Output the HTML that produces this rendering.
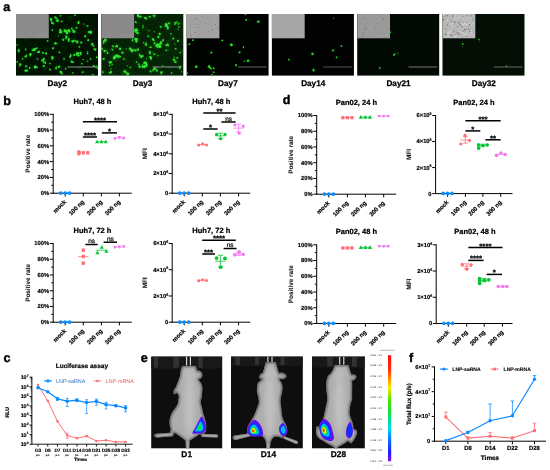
<!DOCTYPE html>
<html lang="en">
<head>
<meta charset="utf-8">
<title>Figure</title>
<style>
html,body{margin:0;padding:0;background:#fff;}
body{width:550px;height:470px;overflow:hidden;}
svg{display:block;font-family:"Liberation Sans", sans-serif;text-rendering:geometricPrecision;}
</style>
</head>
<body>
<svg width="550" height="470" viewBox="0 0 550 470">
<defs>
<filter id="b1" x="-50%" y="-50%" width="200%" height="200%"><feGaussianBlur stdDeviation="0.45"/></filter>
<filter id="b2" x="-50%" y="-50%" width="200%" height="200%"><feGaussianBlur stdDeviation="0.9"/></filter>
<filter id="b3" x="-50%" y="-50%" width="200%" height="200%"><feGaussianBlur stdDeviation="1.6"/></filter>
<filter id="b4" x="-50%" y="-50%" width="200%" height="200%"><feGaussianBlur stdDeviation="3"/></filter>
<filter id="bt" x="-5%" y="-5%" width="110%" height="110%"><feGaussianBlur stdDeviation="0.3"/></filter>
</defs>
<rect x="0" y="0" width="550" height="470" fill="#ffffff"/>
<text x="3.3" y="10.9" font-size="12.6" font-weight="bold" text-anchor="start" fill="#000" stroke="#000" stroke-width="0.38">a</text>
<g>
<clipPath id="ca0"><rect x="16" y="14" width="82" height="61.6"/></clipPath>
<rect x="16" y="14" width="82" height="61.6" fill="#021302"/>
<g clip-path="url(#ca0)">
<g filter="url(#b3)" opacity="0.3" fill="#1a9a1a">
<circle cx="51.06" cy="19.04" r="1.88"/>
<circle cx="56.22" cy="18.25" r="1.88"/>
<circle cx="57.78" cy="20.6" r="1.64"/>
<circle cx="52.31" cy="22.95" r="1.64"/>
<circle cx="61.69" cy="21.38" r="1.17"/>
<circle cx="74.99" cy="15.13" r="1.17"/>
<circle cx="78.43" cy="22.95" r="1.64"/>
<circle cx="76.55" cy="27.64" r="1.41"/>
<circle cx="71.86" cy="28.42" r="1.17"/>
<circle cx="60.6" cy="32.02" r="2.35"/>
<circle cx="65.6" cy="31.08" r="2.81"/>
<circle cx="68.73" cy="30.45" r="1.88"/>
<circle cx="73.89" cy="31.55" r="1.88"/>
<circle cx="52.31" cy="29.98" r="1.17"/>
<circle cx="87.49" cy="26.07" r="1.41"/>
<circle cx="90.62" cy="32.33" r="2.11"/>
<circle cx="85.15" cy="36.24" r="1.41"/>
<circle cx="88.28" cy="40.15" r="1.41"/>
<circle cx="66.38" cy="36.71" r="1.88"/>
<circle cx="68.73" cy="39.37" r="1.88"/>
<circle cx="72.64" cy="41.4" r="1.88"/>
<circle cx="77.33" cy="42.02" r="1.88"/>
<circle cx="81.24" cy="42.49" r="1.41"/>
<circle cx="63.26" cy="39.83" r="1.41"/>
<circle cx="55.44" cy="43.27" r="1.64"/>
<circle cx="47.62" cy="40.93" r="1.17"/>
<circle cx="92.19" cy="44.06" r="1.88"/>
<circle cx="95.31" cy="49.53" r="1.64"/>
<circle cx="96.88" cy="57.35" r="1.41"/>
<circle cx="53.09" cy="48.28" r="1.41"/>
<circle cx="17.13" cy="44.84" r="1.17"/>
<circle cx="18.69" cy="51.09" r="1.64"/>
<circle cx="25.73" cy="49.53" r="1.17"/>
<circle cx="34.33" cy="49.53" r="2.11"/>
<circle cx="36.67" cy="48.28" r="1.41"/>
<circle cx="39.02" cy="51.87" r="1.64"/>
<circle cx="42.93" cy="52.97" r="1.41"/>
<circle cx="46.06" cy="53.44" r="1.41"/>
<circle cx="30.42" cy="54.22" r="1.64"/>
<circle cx="25.73" cy="56.57" r="1.64"/>
<circle cx="59.35" cy="52.34" r="1.41"/>
<circle cx="52.31" cy="57.35" r="1.88"/>
<circle cx="70.29" cy="56.57" r="1.88"/>
<circle cx="74.2" cy="55" r="1.41"/>
<circle cx="77.33" cy="53.91" r="2.35"/>
<circle cx="80.46" cy="52.97" r="1.64"/>
<circle cx="87.49" cy="53.44" r="1.17"/>
<circle cx="42.93" cy="60.48" r="2.11"/>
<circle cx="45.27" cy="62.82" r="1.64"/>
<circle cx="20.25" cy="64.38" r="1.64"/>
<circle cx="17.13" cy="62.04" r="1.17"/>
<circle cx="35.11" cy="67.04" r="2.11"/>
<circle cx="29.64" cy="67.98" r="1.41"/>
<circle cx="25.73" cy="70.64" r="1.88"/>
<circle cx="43.71" cy="65.95" r="1.41"/>
<circle cx="49.97" cy="69.54" r="1.41"/>
<circle cx="56.22" cy="67.51" r="1.64"/>
<circle cx="58.57" cy="67.04" r="1.64"/>
<circle cx="60.91" cy="72.2" r="1.88"/>
<circle cx="65.6" cy="68.61" r="1.17"/>
<circle cx="71.86" cy="61.73" r="1.64"/>
<circle cx="82.02" cy="63.6" r="1.17"/>
<circle cx="87.49" cy="61.26" r="1.17"/>
<circle cx="93.75" cy="65.95" r="1.41"/>
<circle cx="97.66" cy="68.29" r="1.17"/>
<circle cx="82.8" cy="72.2" r="1.41"/>
<circle cx="90.62" cy="58.91" r="1.17"/>
<circle cx="22.6" cy="58.91" r="1.17"/>
<circle cx="37.46" cy="58.91" r="1.17"/>
<circle cx="64.04" cy="58.91" r="1.17"/>
<circle cx="49.97" cy="63.6" r="1.17"/>
</g>
<g filter="url(#b2)" opacity="0.5" fill="#178a17">
<circle cx="42.55" cy="23.29" r="0.99"/>
<circle cx="21.94" cy="47.01" r="0.82"/>
<circle cx="20.76" cy="45.26" r="0.62"/>
<circle cx="51.56" cy="18.3" r="0.65"/>
<circle cx="50.81" cy="64.93" r="0.67"/>
<circle cx="34.31" cy="52.65" r="1.17"/>
<circle cx="63.32" cy="38.44" r="1.19"/>
<circle cx="19.82" cy="66.88" r="0.77"/>
<circle cx="27.83" cy="21.26" r="0.79"/>
<circle cx="82.92" cy="25.13" r="0.95"/>
<circle cx="68.39" cy="36.94" r="0.93"/>
<circle cx="21.15" cy="17.67" r="0.72"/>
<circle cx="71.79" cy="40.34" r="0.79"/>
<circle cx="64.02" cy="41.92" r="0.78"/>
<circle cx="81.14" cy="57.06" r="0.75"/>
<circle cx="63.1" cy="46.35" r="1.13"/>
<circle cx="75.81" cy="31.74" r="1.19"/>
<circle cx="25.68" cy="39.76" r="1.05"/>
<circle cx="28.46" cy="44.12" r="0.62"/>
<circle cx="70.79" cy="61.1" r="0.94"/>
<circle cx="87.79" cy="33.33" r="1.02"/>
<circle cx="64.74" cy="49.72" r="0.87"/>
<circle cx="84.88" cy="72.19" r="0.88"/>
<circle cx="70.46" cy="17.74" r="1.02"/>
<circle cx="69.06" cy="75.17" r="1.09"/>
<circle cx="39.34" cy="37.76" r="1"/>
<circle cx="17.85" cy="42.44" r="0.7"/>
<circle cx="25.6" cy="17.63" r="1.06"/>
<circle cx="26.61" cy="29.25" r="0.83"/>
<circle cx="87.46" cy="18.96" r="0.87"/>
<circle cx="61.05" cy="68.42" r="1.09"/>
<circle cx="86.85" cy="31.15" r="0.85"/>
<circle cx="45.42" cy="68.47" r="1.17"/>
<circle cx="28.38" cy="24.86" r="0.74"/>
<circle cx="35.13" cy="43.87" r="0.95"/>
<circle cx="37.55" cy="14.25" r="0.85"/>
<circle cx="46.28" cy="48.89" r="1.17"/>
<circle cx="72.62" cy="45.75" r="0.97"/>
<circle cx="71.45" cy="17.33" r="1.14"/>
<circle cx="79.96" cy="67.87" r="1.08"/>
<circle cx="48.18" cy="38.58" r="0.66"/>
<circle cx="68.01" cy="17.83" r="0.64"/>
<circle cx="33.12" cy="24" r="0.8"/>
<circle cx="20.31" cy="14.01" r="0.69"/>
<circle cx="24.32" cy="36.4" r="0.62"/>
</g>
<g filter="url(#b1)" fill="#1fb01f">
<circle cx="87.7" cy="51.83" r="0.77"/>
<circle cx="36.69" cy="35.4" r="0.88"/>
<circle cx="26.07" cy="66.29" r="1.2"/>
<circle cx="54.21" cy="43.8" r="0.74"/>
<circle cx="24.38" cy="35.11" r="0.83"/>
<circle cx="83.97" cy="23.94" r="0.71"/>
<circle cx="93.98" cy="46.54" r="0.77"/>
<circle cx="60.54" cy="15.67" r="0.96"/>
<circle cx="96.24" cy="67.18" r="1.05"/>
<circle cx="37.41" cy="36.59" r="0.78"/>
<circle cx="79.3" cy="46.81" r="1.09"/>
<circle cx="43.03" cy="27.74" r="1.11"/>
<circle cx="96.76" cy="66.52" r="1.1"/>
<circle cx="83.1" cy="59.58" r="0.81"/>
<circle cx="58.45" cy="35.9" r="0.71"/>
<circle cx="18.29" cy="31.21" r="0.83"/>
<circle cx="72.79" cy="72.92" r="0.92"/>
<circle cx="92.84" cy="74.86" r="1.18"/>
</g>
<g filter="url(#b1)" fill="#2fe22f">
<ellipse cx="51.06" cy="19.04" rx="1.5" ry="1.09" transform="rotate(39.68 51.06 19.04)"/>
<circle cx="51.3" cy="20.67" r="0.9"/>
<ellipse cx="56.22" cy="18.25" rx="1.5" ry="1" transform="rotate(36.79 56.22 18.25)"/>
<circle cx="55.05" cy="17.09" r="0.9"/>
<ellipse cx="57.78" cy="20.6" rx="1.31" ry="1.2" transform="rotate(151.28 57.78 20.6)"/>
<circle cx="56.35" cy="20.79" r="0.79"/>
<ellipse cx="52.31" cy="22.95" rx="1.31" ry="1.09" transform="rotate(143.94 52.31 22.95)"/>
<circle cx="53.56" cy="23.68" r="0.79"/>
<ellipse cx="61.69" cy="21.38" rx="0.94" ry="0.78" transform="rotate(163.76 61.69 21.38)"/>
<ellipse cx="74.99" cy="15.13" rx="0.94" ry="0.82" transform="rotate(135.03 74.99 15.13)"/>
<ellipse cx="78.43" cy="22.95" rx="1.31" ry="1.01" transform="rotate(32.13 78.43 22.95)"/>
<circle cx="78.78" cy="21.54" r="0.79"/>
<ellipse cx="76.55" cy="27.64" rx="1.13" ry="0.81" transform="rotate(144.15 76.55 27.64)"/>
<ellipse cx="71.86" cy="28.42" rx="0.94" ry="0.88" transform="rotate(71.25 71.86 28.42)"/>
<ellipse cx="60.6" cy="32.02" rx="1.88" ry="1.39" transform="rotate(170.42 60.6 32.02)"/>
<circle cx="60.27" cy="29.98" r="1.13"/>
<ellipse cx="65.6" cy="31.08" rx="2.25" ry="1.49" transform="rotate(22.87 65.6 31.08)"/>
<circle cx="67.04" cy="33.09" r="1.35"/>
<ellipse cx="68.73" cy="30.45" rx="1.5" ry="1.38" transform="rotate(145.17 68.73 30.45)"/>
<circle cx="69.73" cy="31.76" r="0.9"/>
<ellipse cx="73.89" cy="31.55" rx="1.5" ry="1.33" transform="rotate(176.46 73.89 31.55)"/>
<circle cx="72.98" cy="30.17" r="0.9"/>
<ellipse cx="52.31" cy="29.98" rx="0.94" ry="0.68" transform="rotate(98.76 52.31 29.98)"/>
<ellipse cx="87.49" cy="26.07" rx="1.13" ry="0.73" transform="rotate(2.56 87.49 26.07)"/>
<ellipse cx="90.62" cy="32.33" rx="1.69" ry="1.59" transform="rotate(116.94 90.62 32.33)"/>
<circle cx="88.79" cy="32.02" r="1.01"/>
<ellipse cx="85.15" cy="36.24" rx="1.13" ry="1.04" transform="rotate(78.09 85.15 36.24)"/>
<ellipse cx="88.28" cy="40.15" rx="1.13" ry="1.02" transform="rotate(148.71 88.28 40.15)"/>
<ellipse cx="66.38" cy="36.71" rx="1.5" ry="1.01" transform="rotate(45.33 66.38 36.71)"/>
<circle cx="65.94" cy="38.3" r="0.9"/>
<ellipse cx="68.73" cy="39.37" rx="1.5" ry="1.03" transform="rotate(105.56 68.73 39.37)"/>
<circle cx="68.63" cy="41.01" r="0.9"/>
<ellipse cx="72.64" cy="41.4" rx="1.5" ry="1.12" transform="rotate(23.59 72.64 41.4)"/>
<circle cx="74.03" cy="40.51" r="0.9"/>
<ellipse cx="77.33" cy="42.02" rx="1.5" ry="1.09" transform="rotate(82.47 77.33 42.02)"/>
<circle cx="75.9" cy="41.2" r="0.9"/>
<ellipse cx="81.24" cy="42.49" rx="1.13" ry="1.03" transform="rotate(75.71 81.24 42.49)"/>
<ellipse cx="63.26" cy="39.83" rx="1.13" ry="1.04" transform="rotate(90.3 63.26 39.83)"/>
<ellipse cx="55.44" cy="43.27" rx="1.31" ry="1.03" transform="rotate(94.23 55.44 43.27)"/>
<circle cx="56.87" cy="43.44" r="0.79"/>
<ellipse cx="47.62" cy="40.93" rx="0.94" ry="0.71" transform="rotate(32.96 47.62 40.93)"/>
<ellipse cx="92.19" cy="44.06" rx="1.5" ry="0.9" transform="rotate(143.85 92.19 44.06)"/>
<circle cx="92.96" cy="45.51" r="0.9"/>
<ellipse cx="95.31" cy="49.53" rx="1.31" ry="1.01" transform="rotate(130.53 95.31 49.53)"/>
<circle cx="93.96" cy="49.03" r="0.79"/>
<ellipse cx="96.88" cy="57.35" rx="1.13" ry="0.8" transform="rotate(93.3 96.88 57.35)"/>
<ellipse cx="53.09" cy="48.28" rx="1.13" ry="0.89" transform="rotate(141.17 53.09 48.28)"/>
<ellipse cx="17.13" cy="44.84" rx="0.94" ry="0.6" transform="rotate(100.85 17.13 44.84)"/>
<ellipse cx="18.69" cy="51.09" rx="1.31" ry="0.9" transform="rotate(49.85 18.69 51.09)"/>
<circle cx="18.89" cy="49.66" r="0.79"/>
<ellipse cx="25.73" cy="49.53" rx="0.94" ry="0.73" transform="rotate(101.11 25.73 49.53)"/>
<ellipse cx="34.33" cy="49.53" rx="1.69" ry="1.46" transform="rotate(164.25 34.33 49.53)"/>
<circle cx="32.59" cy="50.18" r="1.01"/>
<ellipse cx="36.67" cy="48.28" rx="1.13" ry="0.92" transform="rotate(91 36.67 48.28)"/>
<ellipse cx="39.02" cy="51.87" rx="1.31" ry="1.02" transform="rotate(124.69 39.02 51.87)"/>
<circle cx="37.64" cy="52.3" r="0.79"/>
<ellipse cx="42.93" cy="52.97" rx="1.13" ry="0.89" transform="rotate(86.05 42.93 52.97)"/>
<ellipse cx="46.06" cy="53.44" rx="1.13" ry="1.05" transform="rotate(125.86 46.06 53.44)"/>
<ellipse cx="30.42" cy="54.22" rx="1.31" ry="1.19" transform="rotate(169.59 30.42 54.22)"/>
<circle cx="30.33" cy="55.66" r="0.79"/>
<ellipse cx="25.73" cy="56.57" rx="1.31" ry="1.05" transform="rotate(169.79 25.73 56.57)"/>
<circle cx="26.5" cy="55.35" r="0.79"/>
<ellipse cx="59.35" cy="52.34" rx="1.13" ry="0.73" transform="rotate(21.89 59.35 52.34)"/>
<ellipse cx="52.31" cy="57.35" rx="1.5" ry="1.13" transform="rotate(13.06 52.31 57.35)"/>
<circle cx="52.41" cy="59" r="0.9"/>
<ellipse cx="70.29" cy="56.57" rx="1.5" ry="0.94" transform="rotate(120.5 70.29 56.57)"/>
<circle cx="70.64" cy="54.95" r="0.9"/>
<ellipse cx="74.2" cy="55" rx="1.13" ry="1.03" transform="rotate(27.8 74.2 55)"/>
<ellipse cx="77.33" cy="53.91" rx="1.88" ry="1.6" transform="rotate(118.85 77.33 53.91)"/>
<circle cx="78.62" cy="55.52" r="1.13"/>
<ellipse cx="80.46" cy="52.97" rx="1.31" ry="1.19" transform="rotate(174.16 80.46 52.97)"/>
<circle cx="80.73" cy="54.39" r="0.79"/>
<ellipse cx="87.49" cy="53.44" rx="0.94" ry="0.88" transform="rotate(71.69 87.49 53.44)"/>
<ellipse cx="42.93" cy="60.48" rx="1.69" ry="1.3" transform="rotate(178.18 42.93 60.48)"/>
<circle cx="43.85" cy="58.86" r="1.01"/>
<ellipse cx="45.27" cy="62.82" rx="1.31" ry="0.86" transform="rotate(77.67 45.27 62.82)"/>
<circle cx="43.84" cy="62.68" r="0.79"/>
<ellipse cx="20.25" cy="64.38" rx="1.31" ry="0.94" transform="rotate(35.23 20.25 64.38)"/>
<circle cx="19.65" cy="65.7" r="0.79"/>
<ellipse cx="17.13" cy="62.04" rx="0.94" ry="0.8" transform="rotate(3.51 17.13 62.04)"/>
<ellipse cx="35.11" cy="67.04" rx="1.69" ry="1.34" transform="rotate(79.28 35.11 67.04)"/>
<circle cx="36.96" cy="67.25" r="1.01"/>
<ellipse cx="29.64" cy="67.98" rx="1.13" ry="0.81" transform="rotate(112.31 29.64 67.98)"/>
<ellipse cx="25.73" cy="70.64" rx="1.5" ry="1.17" transform="rotate(11.57 25.73 70.64)"/>
<circle cx="27.37" cy="70.48" r="0.9"/>
<ellipse cx="43.71" cy="65.95" rx="1.13" ry="0.99" transform="rotate(174.91 43.71 65.95)"/>
<ellipse cx="49.97" cy="69.54" rx="1.13" ry="0.72" transform="rotate(47.8 49.97 69.54)"/>
<ellipse cx="56.22" cy="67.51" rx="1.31" ry="0.81" transform="rotate(140.22 56.22 67.51)"/>
<circle cx="56.04" cy="68.95" r="0.79"/>
<ellipse cx="58.57" cy="67.04" rx="1.31" ry="0.85" transform="rotate(76.01 58.57 67.04)"/>
<circle cx="59.79" cy="66.28" r="0.79"/>
<ellipse cx="60.91" cy="72.2" rx="1.5" ry="1.33" transform="rotate(46.55 60.91 72.2)"/>
<circle cx="61.89" cy="73.54" r="0.9"/>
<ellipse cx="65.6" cy="68.61" rx="0.94" ry="0.86" transform="rotate(102.71 65.6 68.61)"/>
<ellipse cx="71.86" cy="61.73" rx="1.31" ry="1.11" transform="rotate(16.1 71.86 61.73)"/>
<circle cx="73.21" cy="62.24" r="0.79"/>
<ellipse cx="82.02" cy="63.6" rx="0.94" ry="0.79" transform="rotate(76.56 82.02 63.6)"/>
<ellipse cx="87.49" cy="61.26" rx="0.94" ry="0.59" transform="rotate(168.9 87.49 61.26)"/>
<ellipse cx="93.75" cy="65.95" rx="1.13" ry="0.93" transform="rotate(144.29 93.75 65.95)"/>
<ellipse cx="97.66" cy="68.29" rx="0.94" ry="0.59" transform="rotate(154.12 97.66 68.29)"/>
<ellipse cx="82.8" cy="72.2" rx="1.13" ry="0.7" transform="rotate(155.3 82.8 72.2)"/>
<ellipse cx="90.62" cy="58.91" rx="0.94" ry="0.71" transform="rotate(61.05 90.62 58.91)"/>
<ellipse cx="22.6" cy="58.91" rx="0.94" ry="0.74" transform="rotate(166.8 22.6 58.91)"/>
<ellipse cx="37.46" cy="58.91" rx="0.94" ry="0.65" transform="rotate(23.26 37.46 58.91)"/>
<ellipse cx="64.04" cy="58.91" rx="0.94" ry="0.74" transform="rotate(42.92 64.04 58.91)"/>
<ellipse cx="49.97" cy="63.6" rx="0.94" ry="0.6" transform="rotate(29.06 49.97 63.6)"/>
</g>
<rect x="16" y="14" width="32.8" height="24.3" fill="#8c8c8c"/>
<rect x="37" y="35.3" width="10" height="0.5" fill="#c4c4c4" opacity="0.35"/>
<rect x="67.3" y="66.6" width="28.6" height="0.75" fill="#bdbdbd"/>
</g>
<text x="57.3" y="86.3" font-size="8.2" font-weight="bold" text-anchor="middle" fill="#000" stroke="#000" stroke-width="0.25">Day2</text>
</g>
<g>
<clipPath id="ca1"><rect x="101.3" y="14" width="82" height="61.6"/></clipPath>
<rect x="101.3" y="14" width="82" height="61.6" fill="#062206"/>
<g clip-path="url(#ca1)">
<g filter="url(#b3)" opacity="0.5" fill="#1a9a1a">
<circle cx="138.09" cy="15.91" r="1.88"/>
<circle cx="140.44" cy="16.69" r="1.41"/>
<circle cx="145.91" cy="18.25" r="1.64"/>
<circle cx="149.82" cy="16.69" r="1.41"/>
<circle cx="153.73" cy="15.91" r="1.64"/>
<circle cx="135.75" cy="22.16" r="1.41"/>
<circle cx="136.22" cy="29.98" r="2.11"/>
<circle cx="136.53" cy="32.33" r="1.88"/>
<circle cx="136.22" cy="39.37" r="2.35"/>
<circle cx="132.62" cy="40.15" r="1.41"/>
<circle cx="105.25" cy="40.15" r="1.88"/>
<circle cx="103.69" cy="42.49" r="1.41"/>
<circle cx="102.13" cy="48.75" r="1.41"/>
<circle cx="104.47" cy="51.09" r="1.64"/>
<circle cx="107.6" cy="52.97" r="1.41"/>
<circle cx="103.69" cy="58.91" r="1.41"/>
<circle cx="112.29" cy="49.53" r="1.41"/>
<circle cx="116.98" cy="46.09" r="1.64"/>
<circle cx="120.11" cy="48.75" r="1.41"/>
<circle cx="122.46" cy="52.66" r="1.41"/>
<circle cx="114.64" cy="57.35" r="2.81"/>
<circle cx="118.55" cy="56.57" r="1.88"/>
<circle cx="124.02" cy="58.91" r="1.17"/>
<circle cx="109.95" cy="62.35" r="1.64"/>
<circle cx="130.27" cy="48.75" r="1.88"/>
<circle cx="132.15" cy="50.78" r="1.88"/>
<circle cx="135.75" cy="50.31" r="1.41"/>
<circle cx="138.09" cy="49.53" r="1.41"/>
<circle cx="145.91" cy="44.53" r="1.64"/>
<circle cx="150.6" cy="47.18" r="1.41"/>
<circle cx="152.95" cy="39.37" r="1.64"/>
<circle cx="154.51" cy="43.27" r="1.41"/>
<circle cx="157.64" cy="45.62" r="2.81"/>
<circle cx="160.77" cy="43.27" r="1.88"/>
<circle cx="163.11" cy="40.15" r="1.41"/>
<circle cx="167.8" cy="44.84" r="1.88"/>
<circle cx="158.42" cy="37.02" r="1.41"/>
<circle cx="159.67" cy="33.89" r="1.41"/>
<circle cx="148.26" cy="36.24" r="1.17"/>
<circle cx="166.24" cy="24.51" r="1.88"/>
<circle cx="167.8" cy="27.64" r="2.11"/>
<circle cx="169.05" cy="23.26" r="1.41"/>
<circle cx="160.77" cy="26.86" r="1.17"/>
<circle cx="175.62" cy="22.95" r="1.64"/>
<circle cx="178.75" cy="23.73" r="1.17"/>
<circle cx="173.28" cy="38.58" r="1.41"/>
<circle cx="177.97" cy="40.93" r="1.41"/>
<circle cx="175.62" cy="48.75" r="1.17"/>
<circle cx="166.24" cy="50.31" r="1.17"/>
<circle cx="149.82" cy="52.97" r="1.64"/>
<circle cx="154.51" cy="54.22" r="1.41"/>
<circle cx="150.6" cy="57.35" r="1.88"/>
<circle cx="141.22" cy="56.57" r="1.88"/>
<circle cx="139.66" cy="55" r="1.41"/>
<circle cx="145.13" cy="62.82" r="2.35"/>
<circle cx="145.91" cy="65.95" r="2.11"/>
<circle cx="142.78" cy="66.73" r="1.64"/>
<circle cx="139.66" cy="66.73" r="1.41"/>
<circle cx="136.53" cy="62.04" r="1.17"/>
<circle cx="154.51" cy="68.61" r="1.64"/>
<circle cx="156.86" cy="70.64" r="1.41"/>
<circle cx="150.6" cy="71.42" r="1.41"/>
<circle cx="161.55" cy="72.2" r="1.64"/>
<circle cx="124.8" cy="71.42" r="1.88"/>
<circle cx="127.93" cy="73.77" r="1.64"/>
<circle cx="110.73" cy="72.2" r="1.64"/>
<circle cx="102.91" cy="72.2" r="1.41"/>
<circle cx="174.06" cy="59.69" r="1.64"/>
<circle cx="175.62" cy="62.04" r="1.41"/>
<circle cx="171.71" cy="72.99" r="1.17"/>
<circle cx="180.31" cy="66.73" r="1.17"/>
<circle cx="180.31" cy="52.66" r="1.17"/>
<circle cx="130.27" cy="67.51" r="1.17"/>
<circle cx="170.93" cy="33.89" r="1.17"/>
<circle cx="142.78" cy="27.64" r="0.94"/>
<circle cx="149.04" cy="30.76" r="0.94"/>
</g>
<g filter="url(#b2)" opacity="0.5" fill="#178a17">
<circle cx="105.43" cy="26.43" r="0.79"/>
<circle cx="126.31" cy="60.79" r="0.77"/>
<circle cx="142.31" cy="24.96" r="0.81"/>
<circle cx="102.79" cy="29.43" r="0.61"/>
<circle cx="161.41" cy="47.94" r="0.71"/>
<circle cx="140.23" cy="71.57" r="0.66"/>
<circle cx="168.45" cy="40.62" r="0.9"/>
<circle cx="169.74" cy="38.21" r="0.9"/>
<circle cx="157.69" cy="74.52" r="0.81"/>
<circle cx="169.55" cy="57.53" r="0.98"/>
<circle cx="134.49" cy="35.41" r="0.63"/>
<circle cx="111.95" cy="18.36" r="1.04"/>
<circle cx="122.26" cy="24.06" r="0.65"/>
<circle cx="170.28" cy="67.63" r="1"/>
<circle cx="124.42" cy="28.92" r="0.78"/>
<circle cx="138.98" cy="23.7" r="0.87"/>
<circle cx="122.89" cy="73.25" r="1.18"/>
<circle cx="146.16" cy="29.06" r="1.18"/>
<circle cx="126.68" cy="35.97" r="0.6"/>
<circle cx="132.59" cy="43.24" r="0.9"/>
<circle cx="117.78" cy="45.09" r="0.6"/>
<circle cx="122.96" cy="19.53" r="0.84"/>
<circle cx="104.72" cy="15.39" r="0.78"/>
<circle cx="120.39" cy="50.07" r="0.92"/>
<circle cx="162.84" cy="54.5" r="1.03"/>
<circle cx="173.39" cy="37.99" r="0.8"/>
<circle cx="182.05" cy="23.21" r="1.03"/>
<circle cx="154.04" cy="16.7" r="1.1"/>
<circle cx="174.44" cy="52.64" r="1.04"/>
<circle cx="167.9" cy="22.58" r="0.91"/>
<circle cx="142.66" cy="65.43" r="1.08"/>
<circle cx="169.07" cy="49.98" r="1.14"/>
<circle cx="157.3" cy="56.71" r="0.74"/>
<circle cx="103.86" cy="22.2" r="0.82"/>
<circle cx="109.9" cy="65.49" r="0.94"/>
<circle cx="152.78" cy="52.58" r="1.01"/>
<circle cx="141.42" cy="14.2" r="1.08"/>
<circle cx="162.66" cy="44.98" r="0.92"/>
<circle cx="155.36" cy="18.07" r="1.04"/>
<circle cx="121.98" cy="18.59" r="0.76"/>
<circle cx="161.11" cy="26.64" r="1.04"/>
<circle cx="181.31" cy="44.43" r="0.83"/>
<circle cx="140.58" cy="56.12" r="1.06"/>
<circle cx="151.89" cy="53.59" r="0.65"/>
<circle cx="113.39" cy="29.64" r="1.05"/>
</g>
<g filter="url(#b1)" fill="#1fb01f">
<circle cx="126.26" cy="48.97" r="0.71"/>
<circle cx="106.27" cy="30.56" r="1.04"/>
<circle cx="158.06" cy="55.62" r="0.85"/>
<circle cx="143.66" cy="42.62" r="0.93"/>
<circle cx="111.02" cy="69.05" r="0.8"/>
<circle cx="181.51" cy="71.67" r="0.71"/>
<circle cx="138.94" cy="64.51" r="1.18"/>
<circle cx="138.15" cy="30.55" r="0.8"/>
<circle cx="178.84" cy="26.98" r="0.99"/>
<circle cx="112.92" cy="46.28" r="1.18"/>
<circle cx="112.17" cy="64.53" r="0.95"/>
<circle cx="174.02" cy="57.33" r="0.82"/>
<circle cx="174.91" cy="43.95" r="0.71"/>
<circle cx="101.59" cy="44.29" r="0.93"/>
<circle cx="126.06" cy="22.67" r="0.87"/>
<circle cx="127.22" cy="65.76" r="0.7"/>
<circle cx="162.86" cy="65.69" r="0.76"/>
<circle cx="177.26" cy="57.92" r="1.15"/>
<circle cx="125.07" cy="36.93" r="0.9"/>
<circle cx="183.2" cy="50.29" r="0.88"/>
<circle cx="136.4" cy="30.95" r="0.72"/>
<circle cx="109.64" cy="65.42" r="0.84"/>
<circle cx="178.02" cy="29.36" r="0.83"/>
<circle cx="143.2" cy="25.69" r="0.89"/>
<circle cx="179.71" cy="68.47" r="1.11"/>
<circle cx="153.03" cy="70.27" r="1.17"/>
<circle cx="146.34" cy="58.33" r="0.72"/>
<circle cx="161.35" cy="41.77" r="1.08"/>
<circle cx="154.15" cy="31.63" r="0.72"/>
<circle cx="177.3" cy="21.84" r="0.94"/>
</g>
<g filter="url(#b1)" fill="#30e530">
<ellipse cx="138.09" cy="15.91" rx="1.56" ry="1.13" transform="rotate(53.6 138.09 15.91)"/>
<circle cx="137.97" cy="14.19" r="0.94"/>
<ellipse cx="140.44" cy="16.69" rx="1.17" ry="1.1" transform="rotate(46.83 140.44 16.69)"/>
<ellipse cx="145.91" cy="18.25" rx="1.37" ry="1.14" transform="rotate(54.15 145.91 18.25)"/>
<circle cx="144.5" cy="17.72" r="0.82"/>
<ellipse cx="149.82" cy="16.69" rx="1.17" ry="0.87" transform="rotate(30.12 149.82 16.69)"/>
<ellipse cx="153.73" cy="15.91" rx="1.37" ry="0.9" transform="rotate(37.42 153.73 15.91)"/>
<circle cx="154.98" cy="15.07" r="0.82"/>
<ellipse cx="135.75" cy="22.16" rx="1.17" ry="0.91" transform="rotate(39.6 135.75 22.16)"/>
<ellipse cx="136.22" cy="29.98" rx="1.76" ry="1.61" transform="rotate(179.37 136.22 29.98)"/>
<circle cx="134.38" cy="30.58" r="1.06"/>
<ellipse cx="136.53" cy="32.33" rx="1.56" ry="1.01" transform="rotate(34.63 136.53 32.33)"/>
<circle cx="137.98" cy="33.26" r="0.94"/>
<ellipse cx="136.22" cy="39.37" rx="1.95" ry="1.41" transform="rotate(16.4 136.22 39.37)"/>
<circle cx="136.36" cy="41.51" r="1.17"/>
<ellipse cx="132.62" cy="40.15" rx="1.17" ry="0.81" transform="rotate(102.53 132.62 40.15)"/>
<ellipse cx="105.25" cy="40.15" rx="1.56" ry="1.42" transform="rotate(134.94 105.25 40.15)"/>
<circle cx="103.79" cy="41.04" r="0.94"/>
<ellipse cx="103.69" cy="42.49" rx="1.17" ry="0.87" transform="rotate(94.35 103.69 42.49)"/>
<ellipse cx="102.13" cy="48.75" rx="1.17" ry="0.86" transform="rotate(60.88 102.13 48.75)"/>
<ellipse cx="104.47" cy="51.09" rx="1.37" ry="0.85" transform="rotate(49.95 104.47 51.09)"/>
<circle cx="105.95" cy="50.79" r="0.82"/>
<ellipse cx="107.6" cy="52.97" rx="1.17" ry="0.76" transform="rotate(90.61 107.6 52.97)"/>
<ellipse cx="103.69" cy="58.91" rx="1.17" ry="0.96" transform="rotate(155.32 103.69 58.91)"/>
<ellipse cx="112.29" cy="49.53" rx="1.17" ry="0.79" transform="rotate(48.78 112.29 49.53)"/>
<ellipse cx="116.98" cy="46.09" rx="1.37" ry="0.94" transform="rotate(71.96 116.98 46.09)"/>
<circle cx="115.56" cy="46.59" r="0.82"/>
<ellipse cx="120.11" cy="48.75" rx="1.17" ry="1.1" transform="rotate(152.76 120.11 48.75)"/>
<ellipse cx="122.46" cy="52.66" rx="1.17" ry="1.06" transform="rotate(3.93 122.46 52.66)"/>
<ellipse cx="114.64" cy="57.35" rx="2.35" ry="1.43" transform="rotate(127.71 114.64 57.35)"/>
<circle cx="116.68" cy="55.78" r="1.41"/>
<ellipse cx="118.55" cy="56.57" rx="1.56" ry="1.2" transform="rotate(105.69 118.55 56.57)"/>
<circle cx="120.27" cy="56.57" r="0.94"/>
<ellipse cx="124.02" cy="58.91" rx="0.98" ry="0.72" transform="rotate(166.83 124.02 58.91)"/>
<ellipse cx="109.95" cy="62.35" rx="1.37" ry="1.22" transform="rotate(153.98 109.95 62.35)"/>
<circle cx="111.43" cy="62.09" r="0.82"/>
<ellipse cx="130.27" cy="48.75" rx="1.56" ry="1.07" transform="rotate(19.63 130.27 48.75)"/>
<circle cx="131.25" cy="50.17" r="0.94"/>
<ellipse cx="132.15" cy="50.78" rx="1.56" ry="1.22" transform="rotate(122.77 132.15 50.78)"/>
<circle cx="133.76" cy="50.16" r="0.94"/>
<ellipse cx="135.75" cy="50.31" rx="1.17" ry="1" transform="rotate(116.52 135.75 50.31)"/>
<ellipse cx="138.09" cy="49.53" rx="1.17" ry="1.02" transform="rotate(82.32 138.09 49.53)"/>
<ellipse cx="145.91" cy="44.53" rx="1.37" ry="1.09" transform="rotate(7.12 145.91 44.53)"/>
<circle cx="146.21" cy="43.05" r="0.82"/>
<ellipse cx="150.6" cy="47.18" rx="1.17" ry="0.8" transform="rotate(165.59 150.6 47.18)"/>
<ellipse cx="152.95" cy="39.37" rx="1.37" ry="1.13" transform="rotate(54.68 152.95 39.37)"/>
<circle cx="153.99" cy="40.45" r="0.82"/>
<ellipse cx="154.51" cy="43.27" rx="1.17" ry="0.81" transform="rotate(114.53 154.51 43.27)"/>
<ellipse cx="157.64" cy="45.62" rx="2.35" ry="1.98" transform="rotate(20.18 157.64 45.62)"/>
<circle cx="159.97" cy="46.72" r="1.41"/>
<ellipse cx="160.77" cy="43.27" rx="1.56" ry="1.23" transform="rotate(104.92 160.77 43.27)"/>
<circle cx="159.46" cy="44.39" r="0.94"/>
<ellipse cx="163.11" cy="40.15" rx="1.17" ry="0.8" transform="rotate(108.19 163.11 40.15)"/>
<ellipse cx="167.8" cy="44.84" rx="1.56" ry="0.94" transform="rotate(54.27 167.8 44.84)"/>
<circle cx="166.14" cy="45.26" r="0.94"/>
<ellipse cx="158.42" cy="37.02" rx="1.17" ry="1.1" transform="rotate(116.02 158.42 37.02)"/>
<ellipse cx="159.67" cy="33.89" rx="1.17" ry="1.07" transform="rotate(85.55 159.67 33.89)"/>
<ellipse cx="148.26" cy="36.24" rx="0.98" ry="0.67" transform="rotate(44.47 148.26 36.24)"/>
<ellipse cx="166.24" cy="24.51" rx="1.56" ry="1.46" transform="rotate(126.84 166.24 24.51)"/>
<circle cx="165.63" cy="26.12" r="0.94"/>
<ellipse cx="167.8" cy="27.64" rx="1.76" ry="1.07" transform="rotate(89.7 167.8 27.64)"/>
<circle cx="166.92" cy="25.92" r="1.06"/>
<ellipse cx="169.05" cy="23.26" rx="1.17" ry="0.88" transform="rotate(46.31 169.05 23.26)"/>
<ellipse cx="160.77" cy="26.86" rx="0.98" ry="0.81" transform="rotate(166.53 160.77 26.86)"/>
<ellipse cx="175.62" cy="22.95" rx="1.37" ry="0.93" transform="rotate(6.14 175.62 22.95)"/>
<circle cx="174.83" cy="24.23" r="0.82"/>
<ellipse cx="178.75" cy="23.73" rx="0.98" ry="0.73" transform="rotate(122.86 178.75 23.73)"/>
<ellipse cx="173.28" cy="38.58" rx="1.17" ry="0.78" transform="rotate(143.47 173.28 38.58)"/>
<ellipse cx="177.97" cy="40.93" rx="1.17" ry="1.01" transform="rotate(90.88 177.97 40.93)"/>
<ellipse cx="175.62" cy="48.75" rx="0.98" ry="0.66" transform="rotate(174.57 175.62 48.75)"/>
<ellipse cx="166.24" cy="50.31" rx="0.98" ry="0.69" transform="rotate(147.6 166.24 50.31)"/>
<ellipse cx="149.82" cy="52.97" rx="1.37" ry="0.93" transform="rotate(39.86 149.82 52.97)"/>
<circle cx="149.92" cy="51.47" r="0.82"/>
<ellipse cx="154.51" cy="54.22" rx="1.17" ry="0.82" transform="rotate(171.35 154.51 54.22)"/>
<ellipse cx="150.6" cy="57.35" rx="1.56" ry="1.21" transform="rotate(33.72 150.6 57.35)"/>
<circle cx="150.89" cy="59.04" r="0.94"/>
<ellipse cx="141.22" cy="56.57" rx="1.56" ry="1.17" transform="rotate(119.75 141.22 56.57)"/>
<circle cx="142.85" cy="56.02" r="0.94"/>
<ellipse cx="139.66" cy="55" rx="1.17" ry="0.76" transform="rotate(70.82 139.66 55)"/>
<ellipse cx="145.13" cy="62.82" rx="1.95" ry="1.32" transform="rotate(175.34 145.13 62.82)"/>
<circle cx="146.48" cy="64.49" r="1.17"/>
<ellipse cx="145.91" cy="65.95" rx="1.76" ry="1.09" transform="rotate(10.82 145.91 65.95)"/>
<circle cx="144.4" cy="67.15" r="1.06"/>
<ellipse cx="142.78" cy="66.73" rx="1.37" ry="1.25" transform="rotate(159.05 142.78 66.73)"/>
<circle cx="142.62" cy="65.23" r="0.82"/>
<ellipse cx="139.66" cy="66.73" rx="1.17" ry="1.11" transform="rotate(167.69 139.66 66.73)"/>
<ellipse cx="136.53" cy="62.04" rx="0.98" ry="0.7" transform="rotate(33.39 136.53 62.04)"/>
<ellipse cx="154.51" cy="68.61" rx="1.37" ry="1.27" transform="rotate(134.34 154.51 68.61)"/>
<circle cx="155.99" cy="68.91" r="0.82"/>
<ellipse cx="156.86" cy="70.64" rx="1.17" ry="0.98" transform="rotate(68.15 156.86 70.64)"/>
<ellipse cx="150.6" cy="71.42" rx="1.17" ry="0.86" transform="rotate(59.71 150.6 71.42)"/>
<ellipse cx="161.55" cy="72.2" rx="1.37" ry="0.9" transform="rotate(0.52 161.55 72.2)"/>
<circle cx="161.27" cy="73.68" r="0.82"/>
<ellipse cx="124.8" cy="71.42" rx="1.56" ry="1.13" transform="rotate(171.99 124.8 71.42)"/>
<circle cx="126.03" cy="72.63" r="0.94"/>
<ellipse cx="127.93" cy="73.77" rx="1.37" ry="1.28" transform="rotate(37.33 127.93 73.77)"/>
<circle cx="126.99" cy="74.95" r="0.82"/>
<ellipse cx="110.73" cy="72.2" rx="1.37" ry="1.21" transform="rotate(147.96 110.73 72.2)"/>
<circle cx="109.36" cy="72.82" r="0.82"/>
<ellipse cx="102.91" cy="72.2" rx="1.17" ry="0.72" transform="rotate(85.22 102.91 72.2)"/>
<ellipse cx="174.06" cy="59.69" rx="1.37" ry="1" transform="rotate(165.51 174.06 59.69)"/>
<circle cx="174.59" cy="61.1" r="0.82"/>
<ellipse cx="175.62" cy="62.04" rx="1.17" ry="0.85" transform="rotate(161.46 175.62 62.04)"/>
<ellipse cx="171.71" cy="72.99" rx="0.98" ry="0.6" transform="rotate(73.94 171.71 72.99)"/>
<ellipse cx="180.31" cy="66.73" rx="0.98" ry="0.86" transform="rotate(138 180.31 66.73)"/>
<ellipse cx="180.31" cy="52.66" rx="0.98" ry="0.6" transform="rotate(6.27 180.31 52.66)"/>
<ellipse cx="130.27" cy="67.51" rx="0.98" ry="0.61" transform="rotate(165.61 130.27 67.51)"/>
<ellipse cx="170.93" cy="33.89" rx="0.98" ry="0.67" transform="rotate(134.51 170.93 33.89)"/>
<ellipse cx="142.78" cy="27.64" rx="0.78" ry="0.72" transform="rotate(61.03 142.78 27.64)"/>
<ellipse cx="149.04" cy="30.76" rx="0.78" ry="0.54" transform="rotate(172.38 149.04 30.76)"/>
</g>
<rect x="101.3" y="14" width="32.8" height="24.3" fill="#8a8a8a"/>
<rect x="122.3" y="35.3" width="10" height="0.5" fill="#c4c4c4" opacity="0.35"/>
<rect x="152.6" y="66.6" width="28.6" height="0.75" fill="#bdbdbd"/>
</g>
<text x="142.6" y="86.3" font-size="8.2" font-weight="bold" text-anchor="middle" fill="#000" stroke="#000" stroke-width="0.25">Day3</text>
</g>
<g>
<clipPath id="ca2"><rect x="186.6" y="14" width="82" height="61.6"/></clipPath>
<rect x="186.6" y="14" width="82" height="61.6" fill="#010301"/>
<g clip-path="url(#ca2)">
<g filter="url(#b1)" fill="#22d822">
<ellipse cx="245.3" cy="14.35" rx="0.9" ry="0.73" transform="rotate(47.19 245.3 14.35)"/>
<ellipse cx="246.24" cy="19.82" rx="1.08" ry="0.92" transform="rotate(56.97 246.24 19.82)"/>
<ellipse cx="258.28" cy="21.7" rx="1.62" ry="1.13" transform="rotate(0.68 258.28 21.7)"/>
<ellipse cx="193.07" cy="40.15" rx="1.08" ry="0.93" transform="rotate(164.96 193.07 40.15)"/>
<ellipse cx="189.47" cy="44.06" rx="1.08" ry="0.89" transform="rotate(169.79 189.47 44.06)"/>
<ellipse cx="186.81" cy="44.84" rx="0.9" ry="0.55" transform="rotate(42.1 186.81 44.84)"/>
<ellipse cx="222.31" cy="40.46" rx="1.08" ry="0.83" transform="rotate(172.22 222.31 40.46)"/>
<ellipse cx="231.38" cy="44.84" rx="1.62" ry="1.51" transform="rotate(69.57 231.38 44.84)"/>
<ellipse cx="243.42" cy="47.18" rx="1.08" ry="0.74" transform="rotate(77.39 243.42 47.18)"/>
<ellipse cx="239.51" cy="52.34" rx="1.26" ry="0.97" transform="rotate(167.06 239.51 52.34)"/>
<ellipse cx="211.37" cy="52.66" rx="1.26" ry="0.84" transform="rotate(144.46 211.37 52.66)"/>
<ellipse cx="248.11" cy="60.79" rx="1.44" ry="1.24" transform="rotate(148.1 248.11 60.79)"/>
<ellipse cx="244.2" cy="61.26" rx="0.72" ry="0.63" transform="rotate(109.31 244.2 61.26)"/>
<ellipse cx="236.07" cy="65.17" rx="1.26" ry="0.9" transform="rotate(57.52 236.07 65.17)"/>
<ellipse cx="209.02" cy="66.42" rx="1.62" ry="1.18" transform="rotate(140.8 209.02 66.42)"/>
<ellipse cx="210.58" cy="68.29" rx="1.62" ry="1.02" transform="rotate(35.52 210.58 68.29)"/>
<ellipse cx="213.71" cy="68.29" rx="1.08" ry="0.93" transform="rotate(44.52 213.71 68.29)"/>
<ellipse cx="213.71" cy="72.2" rx="1.26" ry="0.78" transform="rotate(6.1 213.71 72.2)"/>
<ellipse cx="212.15" cy="74.55" rx="0.9" ry="0.71" transform="rotate(58.64 212.15 74.55)"/>
<ellipse cx="196.2" cy="66.73" rx="1.44" ry="1.36" transform="rotate(159.03 196.2 66.73)"/>
<ellipse cx="187.13" cy="72.99" rx="0.9" ry="0.85" transform="rotate(47.68 187.13 72.99)"/>
<ellipse cx="186.35" cy="69.86" rx="0.72" ry="0.45" transform="rotate(17.36 186.35 69.86)"/>
</g>
<rect x="186.6" y="14" width="32.8" height="24.3" fill="#a2a2a2"/>
<g fill="#6f6f6f" filter="url(#bt)">
<circle cx="202.95" cy="30.83" r="0.38"/>
<circle cx="194.81" cy="24.3" r="0.44"/>
<circle cx="208.36" cy="31.68" r="0.5"/>
<circle cx="208.06" cy="17.7" r="0.5"/>
<circle cx="196.65" cy="27.64" r="0.36"/>
<circle cx="210.33" cy="19.44" r="0.32"/>
<circle cx="195.16" cy="18.42" r="0.52"/>
<circle cx="205.41" cy="22.28" r="0.37"/>
<circle cx="218.17" cy="26.31" r="0.32"/>
<circle cx="212.5" cy="29.57" r="0.55"/>
<circle cx="190.75" cy="25.59" r="0.5"/>
<circle cx="213.49" cy="35.39" r="0.26"/>
<circle cx="196.65" cy="17.66" r="0.31"/>
<circle cx="217.57" cy="28.01" r="0.53"/>
<circle cx="199.06" cy="34.31" r="0.38"/>
<circle cx="195.61" cy="32.34" r="0.53"/>
<circle cx="190.86" cy="28.29" r="0.44"/>
<circle cx="194.3" cy="23.22" r="0.29"/>
<circle cx="193.88" cy="20.68" r="0.43"/>
<circle cx="207.67" cy="19.54" r="0.25"/>
<circle cx="197.68" cy="30.13" r="0.31"/>
<circle cx="197.22" cy="19.54" r="0.49"/>
<circle cx="204.48" cy="16.41" r="0.28"/>
<circle cx="199.78" cy="27.27" r="0.44"/>
<circle cx="190.41" cy="18.65" r="0.46"/>
<circle cx="200.22" cy="21.32" r="0.34"/>
<circle cx="216.96" cy="21.97" r="0.42"/>
<circle cx="198.6" cy="24.29" r="0.51"/>
<circle cx="218.3" cy="23.11" r="0.31"/>
<circle cx="210.02" cy="19.54" r="0.25"/>
<circle cx="215.37" cy="24.45" r="0.5"/>
<circle cx="200.11" cy="34.69" r="0.39"/>
<circle cx="192.61" cy="15.33" r="0.42"/>
<circle cx="207.33" cy="35.29" r="0.28"/>
<circle cx="206.76" cy="23.27" r="0.4"/>
<circle cx="192.09" cy="21.32" r="0.41"/>
<circle cx="216.11" cy="17.43" r="0.4"/>
<circle cx="212.39" cy="36.56" r="0.31"/>
<circle cx="191.5" cy="36.03" r="0.54"/>
<circle cx="202.47" cy="16.19" r="0.53"/>
</g>
<rect x="207.6" y="35.3" width="10" height="0.5" fill="#c4c4c4" opacity="0.35"/>
<rect x="237.9" y="66.6" width="28.6" height="0.75" fill="#858585"/>
</g>
<text x="227.9" y="86.3" font-size="8.2" font-weight="bold" text-anchor="middle" fill="#000" stroke="#000" stroke-width="0.25">Day7</text>
</g>
<g>
<clipPath id="ca3"><rect x="271.9" y="14" width="82" height="61.6"/></clipPath>
<rect x="271.9" y="14" width="82" height="61.6" fill="#010201"/>
<g clip-path="url(#ca3)">
<g filter="url(#b1)" fill="#20d020">
<ellipse cx="333.58" cy="18.25" rx="0.69" ry="0.51" transform="rotate(162.76 333.58 18.25)"/>
<ellipse cx="341.4" cy="45.93" rx="1.03" ry="0.84" transform="rotate(148.42 341.4 45.93)"/>
<ellipse cx="333.11" cy="50.47" rx="1.38" ry="0.9" transform="rotate(141.45 333.11 50.47)"/>
<ellipse cx="336.55" cy="57.35" rx="1.2" ry="0.82" transform="rotate(72.81 336.55 57.35)"/>
<ellipse cx="312.47" cy="53.91" rx="1.38" ry="1.23" transform="rotate(149.25 312.47 53.91)"/>
<ellipse cx="288.86" cy="59.69" rx="1.2" ry="0.8" transform="rotate(39.26 288.86 59.69)"/>
<ellipse cx="313.57" cy="70.17" rx="1.55" ry="1.15" transform="rotate(93.22 313.57 70.17)"/>
</g>
<rect x="271.9" y="14" width="32.8" height="24.3" fill="#a6a6a6"/>
<g fill="#8d8d8d" filter="url(#bt)">
<circle cx="284.71" cy="17.74" r="0.32"/>
<circle cx="295.23" cy="35.01" r="0.26"/>
<circle cx="290.22" cy="31.89" r="0.26"/>
<circle cx="298.72" cy="17.63" r="0.43"/>
<circle cx="289.84" cy="28.98" r="0.34"/>
<circle cx="285.84" cy="27.99" r="0.38"/>
<circle cx="293.19" cy="24.96" r="0.38"/>
<circle cx="273.62" cy="28.8" r="0.4"/>
<circle cx="280.15" cy="32.03" r="0.48"/>
<circle cx="287.02" cy="19" r="0.39"/>
<circle cx="276.2" cy="17.86" r="0.38"/>
<circle cx="275.72" cy="24.86" r="0.4"/>
</g>
<rect x="292.9" y="35.3" width="10" height="0.5" fill="#c4c4c4" opacity="0.35"/>
<rect x="323.2" y="66.6" width="28.6" height="0.75" fill="#707070"/>
</g>
<text x="313.2" y="86.3" font-size="8.2" font-weight="bold" text-anchor="middle" fill="#000" stroke="#000" stroke-width="0.25">Day14</text>
</g>
<g>
<clipPath id="ca4"><rect x="357.2" y="14" width="82" height="61.6"/></clipPath>
<rect x="357.2" y="14" width="82" height="61.6" fill="#030a03"/>
<g clip-path="url(#ca4)">
<g filter="url(#b1)" fill="#1fc81f">
<ellipse cx="390.43" cy="32.33" rx="1.03" ry="0.63" transform="rotate(114.56 390.43 32.33)"/>
<ellipse cx="394.19" cy="54.53" rx="1.55" ry="0.97" transform="rotate(132.03 394.19 54.53)"/>
<ellipse cx="397.78" cy="53.13" rx="0.69" ry="0.6" transform="rotate(92.07 397.78 53.13)"/>
<ellipse cx="379.8" cy="67.98" rx="1.2" ry="0.75" transform="rotate(90.71 379.8 67.98)"/>
</g>
<rect x="357.2" y="14" width="32.8" height="24.3" fill="#9a9a9a"/>
<g fill="#6c6c6c" filter="url(#bt)">
<circle cx="369.84" cy="36.2" r="0.29"/>
<circle cx="384.6" cy="37.21" r="0.47"/>
<circle cx="383.3" cy="19.32" r="0.54"/>
<circle cx="373.35" cy="36.33" r="0.52"/>
<circle cx="363.29" cy="32.58" r="0.53"/>
<circle cx="360.22" cy="22.83" r="0.48"/>
<circle cx="363.09" cy="34.99" r="0.33"/>
<circle cx="383.32" cy="18.2" r="0.4"/>
<circle cx="386.53" cy="19.65" r="0.33"/>
<circle cx="373.79" cy="22.12" r="0.26"/>
<circle cx="363.81" cy="18.6" r="0.53"/>
<circle cx="379.13" cy="34.97" r="0.3"/>
<circle cx="382.37" cy="17.57" r="0.41"/>
<circle cx="377.8" cy="23.02" r="0.51"/>
<circle cx="375.3" cy="27.93" r="0.51"/>
<circle cx="361.42" cy="37.14" r="0.44"/>
<circle cx="370.34" cy="32.79" r="0.33"/>
<circle cx="388.71" cy="27.88" r="0.36"/>
<circle cx="381.75" cy="24.86" r="0.3"/>
<circle cx="381.1" cy="16.08" r="0.5"/>
<circle cx="366.01" cy="29.26" r="0.55"/>
<circle cx="376.24" cy="29.8" r="0.34"/>
<circle cx="358.26" cy="15.75" r="0.29"/>
<circle cx="377.17" cy="24.64" r="0.4"/>
<circle cx="385.78" cy="17.94" r="0.32"/>
<circle cx="378.32" cy="15.5" r="0.25"/>
<circle cx="369.13" cy="17.37" r="0.36"/>
<circle cx="365.11" cy="28.01" r="0.43"/>
<circle cx="364.49" cy="28.91" r="0.39"/>
<circle cx="362.35" cy="35.89" r="0.32"/>
</g>
<rect x="378.2" y="35.3" width="10" height="0.5" fill="#c4c4c4" opacity="0.35"/>
<rect x="408.5" y="66.6" width="28.6" height="0.75" fill="#9a9a9a"/>
</g>
<text x="398.5" y="86.3" font-size="8.2" font-weight="bold" text-anchor="middle" fill="#000" stroke="#000" stroke-width="0.25">Day21</text>
</g>
<g>
<clipPath id="ca5"><rect x="442.5" y="14" width="82" height="61.6"/></clipPath>
<rect x="442.5" y="14" width="82" height="61.6" fill="#040e04"/>
<g clip-path="url(#ca5)">
<g filter="url(#b1)" fill="#1bb41b">
<ellipse cx="478.87" cy="39.37" rx="0.99" ry="0.64" transform="rotate(17.24 478.87 39.37)"/>
<ellipse cx="479.34" cy="41.24" rx="0.56" ry="0.46" transform="rotate(156.83 479.34 41.24)"/>
<ellipse cx="462.77" cy="44.06" rx="0.99" ry="0.86" transform="rotate(72.35 462.77 44.06)"/>
<ellipse cx="462.46" cy="46.71" rx="0.56" ry="0.39" transform="rotate(2.07 462.46 46.71)"/>
<ellipse cx="506.55" cy="65.95" rx="0.84" ry="0.7" transform="rotate(101.22 506.55 65.95)"/>
</g>
<rect x="442.5" y="14" width="32.8" height="24.3" fill="#b8b8b8"/>
<g fill="#6a6a6a" filter="url(#bt)">
<circle cx="454.29" cy="29.4" r="0.49"/>
<circle cx="472.36" cy="31.36" r="0.39"/>
<circle cx="471.33" cy="15.98" r="0.54"/>
<circle cx="456" cy="20.3" r="0.28"/>
<circle cx="467.49" cy="15.28" r="0.55"/>
<circle cx="472.48" cy="18.17" r="0.36"/>
<circle cx="462.23" cy="26.3" r="0.6"/>
<circle cx="468.55" cy="18.89" r="0.42"/>
<circle cx="452.75" cy="16.08" r="0.74"/>
<circle cx="467.62" cy="30.95" r="0.25"/>
<circle cx="469.51" cy="31.62" r="0.51"/>
<circle cx="466.35" cy="25.09" r="0.37"/>
<circle cx="446.74" cy="20.18" r="0.27"/>
<circle cx="453.83" cy="31.72" r="0.63"/>
<circle cx="469.54" cy="30.87" r="0.4"/>
<circle cx="460.56" cy="24.72" r="0.68"/>
<circle cx="459.62" cy="20.92" r="0.6"/>
<circle cx="473.23" cy="19.84" r="0.73"/>
<circle cx="443.97" cy="20.81" r="0.38"/>
<circle cx="466.41" cy="36.07" r="0.66"/>
<circle cx="453.57" cy="34.63" r="0.43"/>
<circle cx="450.87" cy="35.24" r="0.6"/>
<circle cx="464.84" cy="29.83" r="0.79"/>
<circle cx="457.96" cy="33.73" r="0.63"/>
<circle cx="469.91" cy="24.75" r="0.65"/>
<circle cx="461.07" cy="21.86" r="0.37"/>
<circle cx="462.68" cy="16.73" r="0.75"/>
<circle cx="447.95" cy="15.6" r="0.31"/>
<circle cx="472.11" cy="22.69" r="0.33"/>
<circle cx="444.38" cy="15.93" r="0.63"/>
<circle cx="463.02" cy="30.54" r="0.66"/>
<circle cx="445.53" cy="28.17" r="0.45"/>
<circle cx="468.68" cy="33.28" r="0.74"/>
<circle cx="445.53" cy="34.35" r="0.75"/>
<circle cx="472.59" cy="17.39" r="0.36"/>
<circle cx="446.95" cy="15.77" r="0.72"/>
<circle cx="468.51" cy="29.14" r="0.7"/>
<circle cx="462.95" cy="21.41" r="0.3"/>
<circle cx="446.51" cy="31.89" r="0.36"/>
<circle cx="453.33" cy="24.45" r="0.26"/>
<circle cx="451.41" cy="21.3" r="0.64"/>
<circle cx="454.84" cy="22.15" r="0.78"/>
<circle cx="459.02" cy="33.99" r="0.59"/>
<circle cx="444.45" cy="24.21" r="0.49"/>
<circle cx="467.31" cy="22.73" r="0.64"/>
<circle cx="460.07" cy="19.83" r="0.72"/>
<circle cx="446.3" cy="33.28" r="0.34"/>
<circle cx="443.54" cy="19.51" r="0.67"/>
<circle cx="473.62" cy="15.1" r="0.52"/>
<circle cx="458.64" cy="32.77" r="0.35"/>
<circle cx="458.73" cy="22.74" r="0.71"/>
<circle cx="451.53" cy="36.05" r="0.41"/>
<circle cx="450.11" cy="30.6" r="0.52"/>
<circle cx="446.89" cy="29.19" r="0.29"/>
<circle cx="467.77" cy="30.55" r="0.68"/>
<circle cx="462.84" cy="22.93" r="0.47"/>
<circle cx="455.65" cy="34.86" r="0.3"/>
<circle cx="470.86" cy="15.56" r="0.36"/>
<circle cx="451.61" cy="35.1" r="0.53"/>
<circle cx="455.18" cy="34.71" r="0.38"/>
<circle cx="457.7" cy="26.85" r="0.66"/>
<circle cx="466.69" cy="29.41" r="0.44"/>
<circle cx="453.56" cy="18.46" r="0.71"/>
<circle cx="463.89" cy="31.55" r="0.34"/>
<circle cx="457.01" cy="32.25" r="0.57"/>
<circle cx="447.38" cy="25.3" r="0.74"/>
<circle cx="450.83" cy="19.27" r="0.42"/>
<circle cx="465.16" cy="33.81" r="0.34"/>
<circle cx="448.3" cy="20.52" r="0.43"/>
<circle cx="459.58" cy="18.59" r="0.43"/>
</g>
<g fill="#d6d6d6" filter="url(#bt)">
<circle cx="449.33" cy="36.75" r="0.76"/>
<circle cx="446.64" cy="36.46" r="0.45"/>
<circle cx="455.33" cy="36.94" r="0.8"/>
<circle cx="466.09" cy="24.7" r="0.5"/>
<circle cx="463.15" cy="17.38" r="0.5"/>
<circle cx="455.46" cy="15.76" r="0.6"/>
<circle cx="467.86" cy="30.46" r="0.65"/>
<circle cx="462.98" cy="25.33" r="0.47"/>
<circle cx="462.09" cy="24.03" r="0.77"/>
<circle cx="471.47" cy="24.59" r="0.69"/>
<circle cx="466.57" cy="24.39" r="0.51"/>
<circle cx="465.74" cy="34.63" r="0.79"/>
<circle cx="465.06" cy="34.01" r="0.74"/>
<circle cx="463.26" cy="25.12" r="0.56"/>
<circle cx="462.85" cy="17.18" r="0.61"/>
<circle cx="467.6" cy="30.9" r="0.71"/>
<circle cx="451.2" cy="24.45" r="0.63"/>
<circle cx="462.64" cy="24.13" r="0.74"/>
<circle cx="472.15" cy="19.08" r="0.73"/>
<circle cx="467.47" cy="23.67" r="0.64"/>
<circle cx="473.52" cy="15.85" r="0.67"/>
<circle cx="448.45" cy="32.43" r="0.87"/>
<circle cx="459.49" cy="17.25" r="0.69"/>
<circle cx="460.16" cy="31" r="0.66"/>
<circle cx="463.19" cy="33.49" r="0.66"/>
<circle cx="456.14" cy="36.14" r="0.51"/>
<circle cx="464.58" cy="23.75" r="0.78"/>
<circle cx="447.27" cy="36.95" r="0.58"/>
<circle cx="445.24" cy="21.12" r="0.6"/>
<circle cx="443.91" cy="24.33" r="0.61"/>
<circle cx="465.01" cy="22.85" r="0.53"/>
<circle cx="450.41" cy="31.53" r="0.87"/>
<circle cx="459.73" cy="19.88" r="0.8"/>
<circle cx="455.57" cy="19.73" r="0.46"/>
<circle cx="467.42" cy="33.05" r="0.72"/>
<circle cx="457.95" cy="27.53" r="0.51"/>
<circle cx="473.19" cy="22.87" r="0.72"/>
<circle cx="468.72" cy="33.2" r="0.63"/>
<circle cx="452.57" cy="27.23" r="0.46"/>
<circle cx="469.18" cy="22.91" r="0.83"/>
<circle cx="451.74" cy="23.39" r="0.53"/>
<circle cx="456.62" cy="19.15" r="0.4"/>
<circle cx="465.73" cy="21.27" r="0.52"/>
<circle cx="452.8" cy="25.69" r="0.61"/>
<circle cx="463.13" cy="29.7" r="0.58"/>
<circle cx="472.1" cy="34.05" r="0.43"/>
<circle cx="469" cy="35.2" r="0.79"/>
<circle cx="447.82" cy="33.54" r="0.72"/>
<circle cx="443.96" cy="15.26" r="0.88"/>
<circle cx="463.7" cy="20.58" r="0.45"/>
<circle cx="447.9" cy="20.21" r="0.79"/>
<circle cx="454.17" cy="18.4" r="0.85"/>
<circle cx="467.88" cy="18.74" r="0.85"/>
<circle cx="462.24" cy="32.42" r="0.73"/>
<circle cx="471.03" cy="32.57" r="0.82"/>
<circle cx="449.58" cy="30.45" r="0.67"/>
<circle cx="466.35" cy="24.78" r="0.84"/>
<circle cx="460.6" cy="20.9" r="0.52"/>
<circle cx="447.79" cy="26" r="0.43"/>
<circle cx="457.89" cy="18.22" r="0.65"/>
</g>
<rect x="463.5" y="35.3" width="10" height="0.5" fill="#c4c4c4" opacity="0.35"/>
<rect x="493.8" y="66.6" width="28.6" height="0.75" fill="#8a8a8a"/>
</g>
<text x="483.8" y="86.3" font-size="8.2" font-weight="bold" text-anchor="middle" fill="#000" stroke="#000" stroke-width="0.25">Day32</text>
</g>
<text x="3.2" y="105.1" font-size="12.6" font-weight="bold" text-anchor="start" fill="#000" stroke="#000" stroke-width="0.38">b</text>
<text x="282.7" y="104" font-size="12.6" font-weight="bold" text-anchor="start" fill="#000" stroke="#000" stroke-width="0.38">d</text>
<text x="92.5" y="104.2" font-size="7.5" font-weight="bold" text-anchor="middle" fill="#000" stroke="#000" stroke-width="0.22">Huh7, 48 h</text>
<text x="29.6" y="153.75" font-size="6.4" font-weight="bold" text-anchor="middle" fill="#111" transform="rotate(-90 29.6 153.75)" stroke="#111" stroke-width="0.08">Positive rate</text>
<line x1="53.2" y1="113.8" x2="53.2" y2="193.7" stroke="#000" stroke-width="1"/>
<line x1="52.7" y1="193.2" x2="131.8" y2="193.2" stroke="#000" stroke-width="1"/>
<line x1="49.8" y1="193.2" x2="53.2" y2="193.2" stroke="#000" stroke-width="1"/>
<text x="49.2" y="195.15" font-size="5.8" font-weight="bold" text-anchor="end" fill="#000" stroke="#000" stroke-width="0.17">0%</text>
<line x1="51.3" y1="185.31" x2="53.2" y2="185.31" stroke="#000" stroke-width="1"/>
<line x1="49.8" y1="177.42" x2="53.2" y2="177.42" stroke="#000" stroke-width="1"/>
<text x="49.2" y="179.37" font-size="5.8" font-weight="bold" text-anchor="end" fill="#000" stroke="#000" stroke-width="0.17">20%</text>
<line x1="51.3" y1="169.53" x2="53.2" y2="169.53" stroke="#000" stroke-width="1"/>
<line x1="49.8" y1="161.64" x2="53.2" y2="161.64" stroke="#000" stroke-width="1"/>
<text x="49.2" y="163.59" font-size="5.8" font-weight="bold" text-anchor="end" fill="#000" stroke="#000" stroke-width="0.17">40%</text>
<line x1="51.3" y1="153.75" x2="53.2" y2="153.75" stroke="#000" stroke-width="1"/>
<line x1="49.8" y1="145.86" x2="53.2" y2="145.86" stroke="#000" stroke-width="1"/>
<text x="49.2" y="147.81" font-size="5.8" font-weight="bold" text-anchor="end" fill="#000" stroke="#000" stroke-width="0.17">60%</text>
<line x1="51.3" y1="137.97" x2="53.2" y2="137.97" stroke="#000" stroke-width="1"/>
<line x1="49.8" y1="130.08" x2="53.2" y2="130.08" stroke="#000" stroke-width="1"/>
<text x="49.2" y="132.03" font-size="5.8" font-weight="bold" text-anchor="end" fill="#000" stroke="#000" stroke-width="0.17">80%</text>
<line x1="51.3" y1="122.19" x2="53.2" y2="122.19" stroke="#000" stroke-width="1"/>
<line x1="49.8" y1="114.3" x2="53.2" y2="114.3" stroke="#000" stroke-width="1"/>
<text x="49.2" y="116.25" font-size="5.8" font-weight="bold" text-anchor="end" fill="#000" stroke="#000" stroke-width="0.17">100%</text>
<line x1="65.2" y1="193.2" x2="65.2" y2="196.4" stroke="#000" stroke-width="1"/>
<text x="66.6" y="202.3" font-size="6" font-weight="bold" text-anchor="end" fill="#000" transform="rotate(-45 66.6 202.3)" stroke="#000" stroke-width="0.18">mock</text>
<line x1="83.3" y1="193.2" x2="83.3" y2="196.4" stroke="#000" stroke-width="1"/>
<text x="84.7" y="202.3" font-size="6" font-weight="bold" text-anchor="end" fill="#000" transform="rotate(-45 84.7 202.3)" stroke="#000" stroke-width="0.18">100 ng</text>
<line x1="101.4" y1="193.2" x2="101.4" y2="196.4" stroke="#000" stroke-width="1"/>
<text x="102.8" y="202.3" font-size="6" font-weight="bold" text-anchor="end" fill="#000" transform="rotate(-45 102.8 202.3)" stroke="#000" stroke-width="0.18">200 ng</text>
<line x1="119.4" y1="193.2" x2="119.4" y2="196.4" stroke="#000" stroke-width="1"/>
<text x="120.8" y="202.3" font-size="6" font-weight="bold" text-anchor="end" fill="#000" transform="rotate(-45 120.8 202.3)" stroke="#000" stroke-width="0.18">300 ng</text>
<circle cx="60.8" cy="193.04" r="1.9" fill="#0d8bff"/>
<circle cx="65.2" cy="193.04" r="1.9" fill="#0d8bff"/>
<circle cx="69.6" cy="193.04" r="1.9" fill="#0d8bff"/>
<rect x="77.2" y="151.1" width="3.4" height="3.4" fill="#ff7075"/>
<rect x="81.6" y="151.1" width="3.4" height="3.4" fill="#ff7075"/>
<rect x="86" y="151.1" width="3.4" height="3.4" fill="#ff7075"/>
<line x1="96.2" y1="141.76" x2="106.6" y2="141.76" stroke="#06c435" stroke-width="0.8"/>
<path d="M97 139.78L98.98 143.34L95.02 143.34Z" fill="#06c435"/>
<path d="M101.4 139.78L103.38 143.34L99.42 143.34Z" fill="#06c435"/>
<path d="M105.8 139.78L107.78 143.34L103.82 143.34Z" fill="#06c435"/>
<line x1="114.2" y1="138.23" x2="124.6" y2="138.23" stroke="#f578f3" stroke-width="0.8"/>
<path d="M115 140.63L116.87 137.26L113.13 137.26Z" fill="#f578f3"/>
<path d="M119.4 139.45L121.27 136.08L117.53 136.08Z" fill="#f578f3"/>
<path d="M123.8 140.23L125.67 136.87L121.93 136.87Z" fill="#f578f3"/>
<line x1="82.9" y1="121.8" x2="117" y2="121.8" stroke="#000" stroke-width="1.5"/>
<text x="99.95" y="122.7" font-size="7.8" font-weight="bold" text-anchor="middle" fill="#000" stroke="#000" stroke-width="0.23">****</text>
<line x1="82.9" y1="137" x2="97" y2="137" stroke="#000" stroke-width="1.5"/>
<text x="89.95" y="137.9" font-size="7.8" font-weight="bold" text-anchor="middle" fill="#000" stroke="#000" stroke-width="0.23">****</text>
<line x1="101.9" y1="132.9" x2="117" y2="132.9" stroke="#000" stroke-width="1.5"/>
<text x="109.45" y="133.8" font-size="7.8" font-weight="bold" text-anchor="middle" fill="#000" stroke="#000" stroke-width="0.23">*</text>
<rect x="77.5" y="150.2" width="2.9" height="5.2" fill="#ff7075"/>
<text x="211.3" y="104.2" font-size="7.5" font-weight="bold" text-anchor="middle" fill="#000" stroke="#000" stroke-width="0.22">Huh7, 48 h</text>
<text x="147" y="153.75" font-size="6.4" font-weight="bold" text-anchor="middle" fill="#111" transform="rotate(-90 147 153.75)" stroke="#111" stroke-width="0.08">MFI</text>
<line x1="172.2" y1="113.8" x2="172.2" y2="193.7" stroke="#000" stroke-width="1"/>
<line x1="171.7" y1="193.2" x2="250.2" y2="193.2" stroke="#000" stroke-width="1"/>
<line x1="168.8" y1="193.2" x2="172.2" y2="193.2" stroke="#000" stroke-width="1"/>
<text x="168.2" y="195.15" font-size="5.8" font-weight="bold" text-anchor="end" fill="#000" stroke="#000" stroke-width="0.17">0</text>
<line x1="168.8" y1="173.47" x2="172.2" y2="173.47" stroke="#000" stroke-width="1"/>
<text x="168.2" y="175.42" font-size="5.8" font-weight="bold" text-anchor="end" fill="#000" stroke="#000" stroke-width="0.17">2×10<tspan dy="-2.2" font-size="3.6">5</tspan></text>
<line x1="168.8" y1="153.75" x2="172.2" y2="153.75" stroke="#000" stroke-width="1"/>
<text x="168.2" y="155.7" font-size="5.8" font-weight="bold" text-anchor="end" fill="#000" stroke="#000" stroke-width="0.17">4×10<tspan dy="-2.2" font-size="3.6">5</tspan></text>
<line x1="168.8" y1="134.02" x2="172.2" y2="134.02" stroke="#000" stroke-width="1"/>
<text x="168.2" y="135.97" font-size="5.8" font-weight="bold" text-anchor="end" fill="#000" stroke="#000" stroke-width="0.17">6×10<tspan dy="-2.2" font-size="3.6">5</tspan></text>
<line x1="168.8" y1="114.3" x2="172.2" y2="114.3" stroke="#000" stroke-width="1"/>
<text x="168.2" y="116.25" font-size="5.8" font-weight="bold" text-anchor="end" fill="#000" stroke="#000" stroke-width="0.17">8×10<tspan dy="-2.2" font-size="3.6">5</tspan></text>
<line x1="184.2" y1="193.2" x2="184.2" y2="196.4" stroke="#000" stroke-width="1"/>
<text x="185.6" y="202.3" font-size="6" font-weight="bold" text-anchor="end" fill="#000" transform="rotate(-45 185.6 202.3)" stroke="#000" stroke-width="0.18">mock</text>
<line x1="202.3" y1="193.2" x2="202.3" y2="196.4" stroke="#000" stroke-width="1"/>
<text x="203.7" y="202.3" font-size="6" font-weight="bold" text-anchor="end" fill="#000" transform="rotate(-45 203.7 202.3)" stroke="#000" stroke-width="0.18">100 ng</text>
<line x1="220.4" y1="193.2" x2="220.4" y2="196.4" stroke="#000" stroke-width="1"/>
<text x="221.8" y="202.3" font-size="6" font-weight="bold" text-anchor="end" fill="#000" transform="rotate(-45 221.8 202.3)" stroke="#000" stroke-width="0.18">200 ng</text>
<line x1="238.6" y1="193.2" x2="238.6" y2="196.4" stroke="#000" stroke-width="1"/>
<text x="240" y="202.3" font-size="6" font-weight="bold" text-anchor="end" fill="#000" transform="rotate(-45 240 202.3)" stroke="#000" stroke-width="0.18">300 ng</text>
<circle cx="179.8" cy="193.04" r="1.9" fill="#0d8bff"/>
<circle cx="184.2" cy="193.04" r="1.9" fill="#0d8bff"/>
<circle cx="188.6" cy="193.04" r="1.9" fill="#0d8bff"/>
<line x1="197.1" y1="144.62" x2="207.5" y2="144.62" stroke="#ff7075" stroke-width="0.8"/>
<circle cx="198.7" cy="145.07" r="1.52" fill="#ff7075"/>
<circle cx="202.7" cy="143.89" r="1.52" fill="#ff7075"/>
<circle cx="206.5" cy="144.91" r="1.52" fill="#ff7075"/>
<line x1="220.4" y1="133.1" x2="220.4" y2="138.63" stroke="#06c435" stroke-width="0.8"/>
<line x1="217.8" y1="133.1" x2="223" y2="133.1" stroke="#06c435" stroke-width="0.8"/>
<line x1="217.8" y1="138.63" x2="223" y2="138.63" stroke="#06c435" stroke-width="0.8"/>
<line x1="215.2" y1="135.87" x2="225.6" y2="135.87" stroke="#06c435" stroke-width="0.8"/>
<circle cx="216.6" cy="134.42" r="1.61" fill="#06c435"/>
<circle cx="220.7" cy="138.76" r="1.61" fill="#06c435"/>
<circle cx="225" cy="134.42" r="1.61" fill="#06c435"/>
<line x1="238.6" y1="124.16" x2="238.6" y2="132.05" stroke="#f578f3" stroke-width="0.8"/>
<line x1="236" y1="124.16" x2="241.2" y2="124.16" stroke="#f578f3" stroke-width="0.8"/>
<line x1="236" y1="132.05" x2="241.2" y2="132.05" stroke="#f578f3" stroke-width="0.8"/>
<line x1="233.4" y1="128.11" x2="243.8" y2="128.11" stroke="#f578f3" stroke-width="0.8"/>
<circle cx="234.8" cy="124.95" r="1.52" fill="#f578f3"/>
<circle cx="239.2" cy="133.24" r="1.52" fill="#f578f3"/>
<circle cx="243.2" cy="126.13" r="1.52" fill="#f578f3"/>
<line x1="203.3" y1="113" x2="235.6" y2="113" stroke="#000" stroke-width="1.5"/>
<text x="219.45" y="113.9" font-size="7.8" font-weight="bold" text-anchor="middle" fill="#000" stroke="#000" stroke-width="0.23">**</text>
<line x1="221.4" y1="122" x2="235.6" y2="122" stroke="#000" stroke-width="1.5"/>
<text x="228.5" y="120.8" font-size="6.4" font-weight="normal" text-anchor="middle" fill="#000" stroke="#000" stroke-width="0.22">ns</text>
<line x1="203.3" y1="129" x2="217.6" y2="129" stroke="#000" stroke-width="1.5"/>
<text x="210.45" y="129.9" font-size="7.8" font-weight="bold" text-anchor="middle" fill="#000" stroke="#000" stroke-width="0.23">*</text>
<text x="92.5" y="233" font-size="7.5" font-weight="bold" text-anchor="middle" fill="#000" stroke="#000" stroke-width="0.22">Huh7, 72 h</text>
<text x="29.6" y="282.85" font-size="6.4" font-weight="bold" text-anchor="middle" fill="#111" transform="rotate(-90 29.6 282.85)" stroke="#111" stroke-width="0.08">Positive rate</text>
<line x1="53.2" y1="243" x2="53.2" y2="322.7" stroke="#000" stroke-width="1"/>
<line x1="52.7" y1="322.2" x2="131.8" y2="322.2" stroke="#000" stroke-width="1"/>
<line x1="49.8" y1="322.2" x2="53.2" y2="322.2" stroke="#000" stroke-width="1"/>
<text x="49.2" y="324.15" font-size="5.8" font-weight="bold" text-anchor="end" fill="#000" stroke="#000" stroke-width="0.17">0%</text>
<line x1="51.3" y1="314.33" x2="53.2" y2="314.33" stroke="#000" stroke-width="1"/>
<line x1="49.8" y1="306.46" x2="53.2" y2="306.46" stroke="#000" stroke-width="1"/>
<text x="49.2" y="308.41" font-size="5.8" font-weight="bold" text-anchor="end" fill="#000" stroke="#000" stroke-width="0.17">20%</text>
<line x1="51.3" y1="298.59" x2="53.2" y2="298.59" stroke="#000" stroke-width="1"/>
<line x1="49.8" y1="290.72" x2="53.2" y2="290.72" stroke="#000" stroke-width="1"/>
<text x="49.2" y="292.67" font-size="5.8" font-weight="bold" text-anchor="end" fill="#000" stroke="#000" stroke-width="0.17">40%</text>
<line x1="51.3" y1="282.85" x2="53.2" y2="282.85" stroke="#000" stroke-width="1"/>
<line x1="49.8" y1="274.98" x2="53.2" y2="274.98" stroke="#000" stroke-width="1"/>
<text x="49.2" y="276.93" font-size="5.8" font-weight="bold" text-anchor="end" fill="#000" stroke="#000" stroke-width="0.17">60%</text>
<line x1="51.3" y1="267.11" x2="53.2" y2="267.11" stroke="#000" stroke-width="1"/>
<line x1="49.8" y1="259.24" x2="53.2" y2="259.24" stroke="#000" stroke-width="1"/>
<text x="49.2" y="261.19" font-size="5.8" font-weight="bold" text-anchor="end" fill="#000" stroke="#000" stroke-width="0.17">80%</text>
<line x1="51.3" y1="251.37" x2="53.2" y2="251.37" stroke="#000" stroke-width="1"/>
<line x1="49.8" y1="243.5" x2="53.2" y2="243.5" stroke="#000" stroke-width="1"/>
<text x="49.2" y="245.45" font-size="5.8" font-weight="bold" text-anchor="end" fill="#000" stroke="#000" stroke-width="0.17">100%</text>
<line x1="65.2" y1="322.2" x2="65.2" y2="325.4" stroke="#000" stroke-width="1"/>
<text x="66.6" y="331.3" font-size="6" font-weight="bold" text-anchor="end" fill="#000" transform="rotate(-45 66.6 331.3)" stroke="#000" stroke-width="0.18">mock</text>
<line x1="83.3" y1="322.2" x2="83.3" y2="325.4" stroke="#000" stroke-width="1"/>
<text x="84.7" y="331.3" font-size="6" font-weight="bold" text-anchor="end" fill="#000" transform="rotate(-45 84.7 331.3)" stroke="#000" stroke-width="0.18">100 ng</text>
<line x1="101.4" y1="322.2" x2="101.4" y2="325.4" stroke="#000" stroke-width="1"/>
<text x="102.8" y="331.3" font-size="6" font-weight="bold" text-anchor="end" fill="#000" transform="rotate(-45 102.8 331.3)" stroke="#000" stroke-width="0.18">200 ng</text>
<line x1="119.4" y1="322.2" x2="119.4" y2="325.4" stroke="#000" stroke-width="1"/>
<text x="120.8" y="331.3" font-size="6" font-weight="bold" text-anchor="end" fill="#000" transform="rotate(-45 120.8 331.3)" stroke="#000" stroke-width="0.18">300 ng</text>
<circle cx="60.8" cy="322.04" r="1.9" fill="#0d8bff"/>
<circle cx="65.2" cy="322.04" r="1.9" fill="#0d8bff"/>
<circle cx="69.6" cy="322.04" r="1.9" fill="#0d8bff"/>
<line x1="78.1" y1="256.62" x2="88.5" y2="256.62" stroke="#ff7075" stroke-width="0.8"/>
<rect x="81.6" y="248.49" width="3.4" height="3.4" fill="#ff7075"/>
<rect x="81.6" y="254.79" width="3.4" height="3.4" fill="#ff7075"/>
<rect x="81.6" y="261.48" width="3.4" height="3.4" fill="#ff7075"/>
<line x1="96.2" y1="250.19" x2="106.6" y2="250.19" stroke="#06c435" stroke-width="0.8"/>
<path d="M97.4 250.46L99.49 254.22L95.31 254.22Z" fill="#06c435"/>
<path d="M101.8 244.95L103.89 248.71L99.71 248.71Z" fill="#06c435"/>
<path d="M106.4 248.89L108.49 252.65L104.31 252.65Z" fill="#06c435"/>
<line x1="114.2" y1="247.04" x2="124.6" y2="247.04" stroke="#f578f3" stroke-width="0.8"/>
<path d="M115 249.31L116.87 245.94L113.13 245.94Z" fill="#f578f3"/>
<path d="M119.4 248.91L121.27 245.55L117.53 245.55Z" fill="#f578f3"/>
<path d="M123.8 248.52L125.67 245.15L121.93 245.15Z" fill="#f578f3"/>
<line x1="85.4" y1="244.5" x2="97.7" y2="244.5" stroke="#000" stroke-width="1.5"/>
<text x="91.55" y="243.3" font-size="6.4" font-weight="normal" text-anchor="middle" fill="#000" stroke="#000" stroke-width="0.22">ns</text>
<line x1="103.6" y1="242.2" x2="117" y2="242.2" stroke="#000" stroke-width="1.5"/>
<text x="110.3" y="241" font-size="6.4" font-weight="normal" text-anchor="middle" fill="#000" stroke="#000" stroke-width="0.22">ns</text>
<text x="211.3" y="233" font-size="7.5" font-weight="bold" text-anchor="middle" fill="#000" stroke="#000" stroke-width="0.22">Huh7, 72 h</text>
<text x="147" y="282.85" font-size="6.4" font-weight="bold" text-anchor="middle" fill="#111" transform="rotate(-90 147 282.85)" stroke="#111" stroke-width="0.08">MFI</text>
<line x1="172.2" y1="243" x2="172.2" y2="322.7" stroke="#000" stroke-width="1"/>
<line x1="171.7" y1="322.2" x2="250.2" y2="322.2" stroke="#000" stroke-width="1"/>
<line x1="168.8" y1="322.2" x2="172.2" y2="322.2" stroke="#000" stroke-width="1"/>
<text x="168.2" y="324.15" font-size="5.8" font-weight="bold" text-anchor="end" fill="#000" stroke="#000" stroke-width="0.17">0</text>
<line x1="168.8" y1="295.97" x2="172.2" y2="295.97" stroke="#000" stroke-width="1"/>
<text x="168.2" y="297.92" font-size="5.8" font-weight="bold" text-anchor="end" fill="#000" stroke="#000" stroke-width="0.17">2×10<tspan dy="-2.2" font-size="3.6">5</tspan></text>
<line x1="168.8" y1="269.73" x2="172.2" y2="269.73" stroke="#000" stroke-width="1"/>
<text x="168.2" y="271.68" font-size="5.8" font-weight="bold" text-anchor="end" fill="#000" stroke="#000" stroke-width="0.17">4×10<tspan dy="-2.2" font-size="3.6">5</tspan></text>
<line x1="168.8" y1="243.5" x2="172.2" y2="243.5" stroke="#000" stroke-width="1"/>
<text x="168.2" y="245.45" font-size="5.8" font-weight="bold" text-anchor="end" fill="#000" stroke="#000" stroke-width="0.17">6×10<tspan dy="-2.2" font-size="3.6">5</tspan></text>
<line x1="184.2" y1="322.2" x2="184.2" y2="325.4" stroke="#000" stroke-width="1"/>
<text x="185.6" y="331.3" font-size="6" font-weight="bold" text-anchor="end" fill="#000" transform="rotate(-45 185.6 331.3)" stroke="#000" stroke-width="0.18">mock</text>
<line x1="202.3" y1="322.2" x2="202.3" y2="325.4" stroke="#000" stroke-width="1"/>
<text x="203.7" y="331.3" font-size="6" font-weight="bold" text-anchor="end" fill="#000" transform="rotate(-45 203.7 331.3)" stroke="#000" stroke-width="0.18">100 ng</text>
<line x1="220.4" y1="322.2" x2="220.4" y2="325.4" stroke="#000" stroke-width="1"/>
<text x="221.8" y="331.3" font-size="6" font-weight="bold" text-anchor="end" fill="#000" transform="rotate(-45 221.8 331.3)" stroke="#000" stroke-width="0.18">200 ng</text>
<line x1="238.6" y1="322.2" x2="238.6" y2="325.4" stroke="#000" stroke-width="1"/>
<text x="240" y="331.3" font-size="6" font-weight="bold" text-anchor="end" fill="#000" transform="rotate(-45 240 331.3)" stroke="#000" stroke-width="0.18">300 ng</text>
<circle cx="179.8" cy="322.04" r="1.9" fill="#0d8bff"/>
<circle cx="184.2" cy="322.04" r="1.9" fill="#0d8bff"/>
<circle cx="188.6" cy="322.04" r="1.9" fill="#0d8bff"/>
<line x1="197.1" y1="280.28" x2="207.5" y2="280.28" stroke="#ff7075" stroke-width="0.8"/>
<circle cx="198.7" cy="280.65" r="1.52" fill="#ff7075"/>
<circle cx="202.7" cy="279.7" r="1.52" fill="#ff7075"/>
<circle cx="206.5" cy="280.49" r="1.52" fill="#ff7075"/>
<line x1="220.4" y1="255.31" x2="220.4" y2="267.11" stroke="#06c435" stroke-width="0.8"/>
<line x1="217.8" y1="255.31" x2="223" y2="255.31" stroke="#06c435" stroke-width="0.8"/>
<line x1="217.8" y1="267.11" x2="223" y2="267.11" stroke="#06c435" stroke-width="0.8"/>
<line x1="215.2" y1="261.21" x2="225.6" y2="261.21" stroke="#06c435" stroke-width="0.8"/>
<circle cx="216.6" cy="258.06" r="1.9" fill="#06c435"/>
<circle cx="220.7" cy="267.11" r="1.9" fill="#06c435"/>
<circle cx="225" cy="258.45" r="1.9" fill="#06c435"/>
<line x1="238.6" y1="252.16" x2="238.6" y2="255.31" stroke="#f578f3" stroke-width="0.8"/>
<line x1="236" y1="252.16" x2="241.2" y2="252.16" stroke="#f578f3" stroke-width="0.8"/>
<line x1="236" y1="255.31" x2="241.2" y2="255.31" stroke="#f578f3" stroke-width="0.8"/>
<line x1="233.4" y1="253.73" x2="243.8" y2="253.73" stroke="#f578f3" stroke-width="0.8"/>
<circle cx="234.8" cy="254.91" r="1.71" fill="#f578f3"/>
<circle cx="239.2" cy="251.76" r="1.71" fill="#f578f3"/>
<circle cx="243.2" cy="254.52" r="1.71" fill="#f578f3"/>
<line x1="202.2" y1="240.3" x2="235.8" y2="240.3" stroke="#000" stroke-width="1.5"/>
<text x="219" y="241.2" font-size="7.8" font-weight="bold" text-anchor="middle" fill="#000" stroke="#000" stroke-width="0.23">****</text>
<line x1="223.6" y1="248.5" x2="236.6" y2="248.5" stroke="#000" stroke-width="1.5"/>
<text x="230.1" y="247.3" font-size="6.4" font-weight="normal" text-anchor="middle" fill="#000" stroke="#000" stroke-width="0.22">ns</text>
<line x1="202.2" y1="254" x2="215" y2="254" stroke="#000" stroke-width="1.5"/>
<text x="208.6" y="254.9" font-size="7.8" font-weight="bold" text-anchor="middle" fill="#000" stroke="#000" stroke-width="0.23">***</text>
<text x="356.4" y="105" font-size="7.5" font-weight="bold" text-anchor="middle" fill="#000" stroke="#000" stroke-width="0.22">Pan02, 24 h</text>
<text x="293.2" y="154.85" font-size="6.4" font-weight="bold" text-anchor="middle" fill="#111" transform="rotate(-90 293.2 154.85)" stroke="#111" stroke-width="0.08">Positive rate</text>
<line x1="316.7" y1="115" x2="316.7" y2="194.7" stroke="#000" stroke-width="1"/>
<line x1="316.2" y1="194.2" x2="396.2" y2="194.2" stroke="#000" stroke-width="1"/>
<line x1="313.3" y1="194.2" x2="316.7" y2="194.2" stroke="#000" stroke-width="1"/>
<text x="312.7" y="196.15" font-size="5.8" font-weight="bold" text-anchor="end" fill="#000" stroke="#000" stroke-width="0.17">0%</text>
<line x1="314.8" y1="186.33" x2="316.7" y2="186.33" stroke="#000" stroke-width="1"/>
<line x1="313.3" y1="178.46" x2="316.7" y2="178.46" stroke="#000" stroke-width="1"/>
<text x="312.7" y="180.41" font-size="5.8" font-weight="bold" text-anchor="end" fill="#000" stroke="#000" stroke-width="0.17">20%</text>
<line x1="314.8" y1="170.59" x2="316.7" y2="170.59" stroke="#000" stroke-width="1"/>
<line x1="313.3" y1="162.72" x2="316.7" y2="162.72" stroke="#000" stroke-width="1"/>
<text x="312.7" y="164.67" font-size="5.8" font-weight="bold" text-anchor="end" fill="#000" stroke="#000" stroke-width="0.17">40%</text>
<line x1="314.8" y1="154.85" x2="316.7" y2="154.85" stroke="#000" stroke-width="1"/>
<line x1="313.3" y1="146.98" x2="316.7" y2="146.98" stroke="#000" stroke-width="1"/>
<text x="312.7" y="148.93" font-size="5.8" font-weight="bold" text-anchor="end" fill="#000" stroke="#000" stroke-width="0.17">60%</text>
<line x1="314.8" y1="139.11" x2="316.7" y2="139.11" stroke="#000" stroke-width="1"/>
<line x1="313.3" y1="131.24" x2="316.7" y2="131.24" stroke="#000" stroke-width="1"/>
<text x="312.7" y="133.19" font-size="5.8" font-weight="bold" text-anchor="end" fill="#000" stroke="#000" stroke-width="0.17">80%</text>
<line x1="314.8" y1="123.37" x2="316.7" y2="123.37" stroke="#000" stroke-width="1"/>
<line x1="313.3" y1="115.5" x2="316.7" y2="115.5" stroke="#000" stroke-width="1"/>
<text x="312.7" y="117.45" font-size="5.8" font-weight="bold" text-anchor="end" fill="#000" stroke="#000" stroke-width="0.17">100%</text>
<line x1="328.8" y1="194.2" x2="328.8" y2="197.4" stroke="#000" stroke-width="1"/>
<text x="330.2" y="203.3" font-size="6" font-weight="bold" text-anchor="end" fill="#000" transform="rotate(-45 330.2 203.3)" stroke="#000" stroke-width="0.18">mock</text>
<line x1="347.4" y1="194.2" x2="347.4" y2="197.4" stroke="#000" stroke-width="1"/>
<text x="348.8" y="203.3" font-size="6" font-weight="bold" text-anchor="end" fill="#000" transform="rotate(-45 348.8 203.3)" stroke="#000" stroke-width="0.18">100 ng</text>
<line x1="365.4" y1="194.2" x2="365.4" y2="197.4" stroke="#000" stroke-width="1"/>
<text x="366.8" y="203.3" font-size="6" font-weight="bold" text-anchor="end" fill="#000" transform="rotate(-45 366.8 203.3)" stroke="#000" stroke-width="0.18">200 ng</text>
<line x1="383.7" y1="194.2" x2="383.7" y2="197.4" stroke="#000" stroke-width="1"/>
<text x="385.1" y="203.3" font-size="6" font-weight="bold" text-anchor="end" fill="#000" transform="rotate(-45 385.1 203.3)" stroke="#000" stroke-width="0.18">300 ng</text>
<circle cx="324.4" cy="194.04" r="1.9" fill="#0d8bff"/>
<circle cx="328.8" cy="194.04" r="1.9" fill="#0d8bff"/>
<circle cx="333.2" cy="194.04" r="1.9" fill="#0d8bff"/>
<line x1="342.2" y1="117.7" x2="352.6" y2="117.7" stroke="#ff7075" stroke-width="0.8"/>
<rect x="341.18" y="116.09" width="3.23" height="3.23" fill="#ff7075"/>
<rect x="345.78" y="116.09" width="3.23" height="3.23" fill="#ff7075"/>
<rect x="350.38" y="116.09" width="3.23" height="3.23" fill="#ff7075"/>
<line x1="360.2" y1="117.07" x2="370.6" y2="117.07" stroke="#06c435" stroke-width="0.8"/>
<path d="M360.8 114.98L362.89 118.75L358.71 118.75Z" fill="#06c435"/>
<path d="M365.4 114.98L367.49 118.75L363.31 118.75Z" fill="#06c435"/>
<path d="M370 114.98L372.09 118.75L367.91 118.75Z" fill="#06c435"/>
<line x1="378.5" y1="116.29" x2="388.9" y2="116.29" stroke="#f578f3" stroke-width="0.8"/>
<path d="M379.1 118.05L380.86 114.88L377.34 114.88Z" fill="#f578f3"/>
<path d="M383.7 118.05L385.46 114.88L381.94 114.88Z" fill="#f578f3"/>
<path d="M388.3 118.05L390.06 114.88L386.54 114.88Z" fill="#f578f3"/>
<text x="474" y="105" font-size="7.5" font-weight="bold" text-anchor="middle" fill="#000" stroke="#000" stroke-width="0.22">Pan02, 24 h</text>
<text x="411.5" y="154.55" font-size="6.4" font-weight="bold" text-anchor="middle" fill="#111" transform="rotate(-90 411.5 154.55)" stroke="#111" stroke-width="0.08">MFI</text>
<line x1="435.6" y1="115" x2="435.6" y2="194.1" stroke="#000" stroke-width="1"/>
<line x1="435.1" y1="193.6" x2="512.5" y2="193.6" stroke="#000" stroke-width="1"/>
<line x1="432.2" y1="193.6" x2="435.6" y2="193.6" stroke="#000" stroke-width="1"/>
<text x="431.6" y="195.55" font-size="5.8" font-weight="bold" text-anchor="end" fill="#000" stroke="#000" stroke-width="0.17">0</text>
<line x1="432.2" y1="167.57" x2="435.6" y2="167.57" stroke="#000" stroke-width="1"/>
<text x="431.6" y="169.52" font-size="5.8" font-weight="bold" text-anchor="end" fill="#000" stroke="#000" stroke-width="0.17">2×10<tspan dy="-2.2" font-size="3.6">5</tspan></text>
<line x1="432.2" y1="141.53" x2="435.6" y2="141.53" stroke="#000" stroke-width="1"/>
<text x="431.6" y="143.48" font-size="5.8" font-weight="bold" text-anchor="end" fill="#000" stroke="#000" stroke-width="0.17">4×10<tspan dy="-2.2" font-size="3.6">5</tspan></text>
<line x1="432.2" y1="115.5" x2="435.6" y2="115.5" stroke="#000" stroke-width="1"/>
<text x="431.6" y="117.45" font-size="5.8" font-weight="bold" text-anchor="end" fill="#000" stroke="#000" stroke-width="0.17">6×10<tspan dy="-2.2" font-size="3.6">5</tspan></text>
<line x1="447.6" y1="193.6" x2="447.6" y2="196.8" stroke="#000" stroke-width="1"/>
<text x="449" y="202.7" font-size="6" font-weight="bold" text-anchor="end" fill="#000" transform="rotate(-45 449 202.7)" stroke="#000" stroke-width="0.18">mock</text>
<line x1="465.4" y1="193.6" x2="465.4" y2="196.8" stroke="#000" stroke-width="1"/>
<text x="466.8" y="202.7" font-size="6" font-weight="bold" text-anchor="end" fill="#000" transform="rotate(-45 466.8 202.7)" stroke="#000" stroke-width="0.18">100 ng</text>
<line x1="482.9" y1="193.6" x2="482.9" y2="196.8" stroke="#000" stroke-width="1"/>
<text x="484.3" y="202.7" font-size="6" font-weight="bold" text-anchor="end" fill="#000" transform="rotate(-45 484.3 202.7)" stroke="#000" stroke-width="0.18">200 ng</text>
<line x1="500.7" y1="193.6" x2="500.7" y2="196.8" stroke="#000" stroke-width="1"/>
<text x="502.1" y="202.7" font-size="6" font-weight="bold" text-anchor="end" fill="#000" transform="rotate(-45 502.1 202.7)" stroke="#000" stroke-width="0.18">300 ng</text>
<circle cx="443.2" cy="193.44" r="1.9" fill="#0d8bff"/>
<circle cx="447.6" cy="193.44" r="1.9" fill="#0d8bff"/>
<circle cx="452" cy="193.44" r="1.9" fill="#0d8bff"/>
<line x1="465.4" y1="136.85" x2="465.4" y2="143.1" stroke="#ff7075" stroke-width="0.8"/>
<line x1="462.8" y1="136.85" x2="468" y2="136.85" stroke="#ff7075" stroke-width="0.8"/>
<line x1="462.8" y1="143.1" x2="468" y2="143.1" stroke="#ff7075" stroke-width="0.8"/>
<line x1="460.2" y1="139.97" x2="470.6" y2="139.97" stroke="#ff7075" stroke-width="0.8"/>
<circle cx="460.8" cy="144.01" r="1.61" fill="#ff7075"/>
<circle cx="465" cy="135.42" r="1.61" fill="#ff7075"/>
<circle cx="469.6" cy="140.49" r="1.61" fill="#ff7075"/>
<line x1="482.9" y1="144.19" x2="482.9" y2="146.06" stroke="#06c435" stroke-width="0.8"/>
<line x1="480.3" y1="144.19" x2="485.5" y2="144.19" stroke="#06c435" stroke-width="0.8"/>
<line x1="480.3" y1="146.06" x2="485.5" y2="146.06" stroke="#06c435" stroke-width="0.8"/>
<line x1="477.7" y1="145.13" x2="488.1" y2="145.13" stroke="#06c435" stroke-width="0.8"/>
<circle cx="478.5" cy="144.63" r="1.71" fill="#06c435"/>
<circle cx="482.9" cy="145.72" r="1.71" fill="#06c435"/>
<circle cx="487.3" cy="145.02" r="1.71" fill="#06c435"/>
<line x1="495.5" y1="154.29" x2="505.9" y2="154.29" stroke="#f578f3" stroke-width="0.8"/>
<circle cx="496.5" cy="155.33" r="1.8" fill="#f578f3"/>
<circle cx="500.9" cy="152.99" r="1.8" fill="#f578f3"/>
<circle cx="505.1" cy="154.55" r="1.8" fill="#f578f3"/>
<line x1="465.4" y1="120.7" x2="500.7" y2="120.7" stroke="#000" stroke-width="1.5"/>
<text x="483.05" y="121.6" font-size="7.8" font-weight="bold" text-anchor="middle" fill="#000" stroke="#000" stroke-width="0.23">***</text>
<line x1="465.4" y1="130.9" x2="480.3" y2="130.9" stroke="#000" stroke-width="1.5"/>
<text x="472.85" y="131.8" font-size="7.8" font-weight="bold" text-anchor="middle" fill="#000" stroke="#000" stroke-width="0.23">*</text>
<line x1="485.4" y1="139.8" x2="500.7" y2="139.8" stroke="#000" stroke-width="1.5"/>
<text x="493.05" y="140.7" font-size="7.8" font-weight="bold" text-anchor="middle" fill="#000" stroke="#000" stroke-width="0.23">**</text>
<circle cx="478.7" cy="148.0" r="1.9" fill="#06c435"/>
<text x="356.4" y="234.2" font-size="7.5" font-weight="bold" text-anchor="middle" fill="#000" stroke="#000" stroke-width="0.22">Pan02, 48 h</text>
<text x="293.2" y="284.15" font-size="6.4" font-weight="bold" text-anchor="middle" fill="#111" transform="rotate(-90 293.2 284.15)" stroke="#111" stroke-width="0.08">Positive rate</text>
<line x1="316.7" y1="244.3" x2="316.7" y2="324" stroke="#000" stroke-width="1"/>
<line x1="316.2" y1="323.5" x2="396.2" y2="323.5" stroke="#000" stroke-width="1"/>
<line x1="313.3" y1="323.5" x2="316.7" y2="323.5" stroke="#000" stroke-width="1"/>
<text x="312.7" y="325.45" font-size="5.8" font-weight="bold" text-anchor="end" fill="#000" stroke="#000" stroke-width="0.17">0%</text>
<line x1="314.8" y1="315.63" x2="316.7" y2="315.63" stroke="#000" stroke-width="1"/>
<line x1="313.3" y1="307.76" x2="316.7" y2="307.76" stroke="#000" stroke-width="1"/>
<text x="312.7" y="309.71" font-size="5.8" font-weight="bold" text-anchor="end" fill="#000" stroke="#000" stroke-width="0.17">20%</text>
<line x1="314.8" y1="299.89" x2="316.7" y2="299.89" stroke="#000" stroke-width="1"/>
<line x1="313.3" y1="292.02" x2="316.7" y2="292.02" stroke="#000" stroke-width="1"/>
<text x="312.7" y="293.97" font-size="5.8" font-weight="bold" text-anchor="end" fill="#000" stroke="#000" stroke-width="0.17">40%</text>
<line x1="314.8" y1="284.15" x2="316.7" y2="284.15" stroke="#000" stroke-width="1"/>
<line x1="313.3" y1="276.28" x2="316.7" y2="276.28" stroke="#000" stroke-width="1"/>
<text x="312.7" y="278.23" font-size="5.8" font-weight="bold" text-anchor="end" fill="#000" stroke="#000" stroke-width="0.17">60%</text>
<line x1="314.8" y1="268.41" x2="316.7" y2="268.41" stroke="#000" stroke-width="1"/>
<line x1="313.3" y1="260.54" x2="316.7" y2="260.54" stroke="#000" stroke-width="1"/>
<text x="312.7" y="262.49" font-size="5.8" font-weight="bold" text-anchor="end" fill="#000" stroke="#000" stroke-width="0.17">80%</text>
<line x1="314.8" y1="252.67" x2="316.7" y2="252.67" stroke="#000" stroke-width="1"/>
<line x1="313.3" y1="244.8" x2="316.7" y2="244.8" stroke="#000" stroke-width="1"/>
<text x="312.7" y="246.75" font-size="5.8" font-weight="bold" text-anchor="end" fill="#000" stroke="#000" stroke-width="0.17">100%</text>
<line x1="328.8" y1="323.5" x2="328.8" y2="326.7" stroke="#000" stroke-width="1"/>
<text x="330.2" y="332.6" font-size="6" font-weight="bold" text-anchor="end" fill="#000" transform="rotate(-45 330.2 332.6)" stroke="#000" stroke-width="0.18">mock</text>
<line x1="347.4" y1="323.5" x2="347.4" y2="326.7" stroke="#000" stroke-width="1"/>
<text x="348.8" y="332.6" font-size="6" font-weight="bold" text-anchor="end" fill="#000" transform="rotate(-45 348.8 332.6)" stroke="#000" stroke-width="0.18">100 ng</text>
<line x1="365.4" y1="323.5" x2="365.4" y2="326.7" stroke="#000" stroke-width="1"/>
<text x="366.8" y="332.6" font-size="6" font-weight="bold" text-anchor="end" fill="#000" transform="rotate(-45 366.8 332.6)" stroke="#000" stroke-width="0.18">200 ng</text>
<line x1="383.7" y1="323.5" x2="383.7" y2="326.7" stroke="#000" stroke-width="1"/>
<text x="385.1" y="332.6" font-size="6" font-weight="bold" text-anchor="end" fill="#000" transform="rotate(-45 385.1 332.6)" stroke="#000" stroke-width="0.18">300 ng</text>
<circle cx="324.4" cy="323.34" r="1.9" fill="#0d8bff"/>
<circle cx="328.8" cy="323.34" r="1.9" fill="#0d8bff"/>
<circle cx="333.2" cy="323.34" r="1.9" fill="#0d8bff"/>
<line x1="342.2" y1="247.95" x2="352.6" y2="247.95" stroke="#ff7075" stroke-width="0.8"/>
<rect x="341.18" y="246.33" width="3.23" height="3.23" fill="#ff7075"/>
<rect x="345.78" y="246.33" width="3.23" height="3.23" fill="#ff7075"/>
<rect x="350.38" y="246.33" width="3.23" height="3.23" fill="#ff7075"/>
<line x1="360.2" y1="247.32" x2="370.6" y2="247.32" stroke="#06c435" stroke-width="0.8"/>
<path d="M360.8 245.23L362.89 248.99L358.71 248.99Z" fill="#06c435"/>
<path d="M365.4 245.23L367.49 248.99L363.31 248.99Z" fill="#06c435"/>
<path d="M370 245.23L372.09 248.99L367.91 248.99Z" fill="#06c435"/>
<line x1="378.5" y1="246.37" x2="388.9" y2="246.37" stroke="#f578f3" stroke-width="0.8"/>
<path d="M379.1 248.13L380.86 244.97L377.34 244.97Z" fill="#f578f3"/>
<path d="M383.7 248.13L385.46 244.97L381.94 244.97Z" fill="#f578f3"/>
<path d="M388.3 248.13L390.06 244.97L386.54 244.97Z" fill="#f578f3"/>
<text x="475" y="234.2" font-size="7.5" font-weight="bold" text-anchor="middle" fill="#000" stroke="#000" stroke-width="0.22">Pan02, 48 h</text>
<text x="411.5" y="284.15" font-size="6.4" font-weight="bold" text-anchor="middle" fill="#111" transform="rotate(-90 411.5 284.15)" stroke="#111" stroke-width="0.08">MFI</text>
<line x1="436.2" y1="244.3" x2="436.2" y2="324" stroke="#000" stroke-width="1"/>
<line x1="435.7" y1="323.5" x2="512.5" y2="323.5" stroke="#000" stroke-width="1"/>
<line x1="432.8" y1="323.5" x2="436.2" y2="323.5" stroke="#000" stroke-width="1"/>
<text x="432.2" y="325.45" font-size="5.8" font-weight="bold" text-anchor="end" fill="#000" stroke="#000" stroke-width="0.17">0</text>
<line x1="432.8" y1="297.27" x2="436.2" y2="297.27" stroke="#000" stroke-width="1"/>
<text x="432.2" y="299.22" font-size="5.8" font-weight="bold" text-anchor="end" fill="#000" stroke="#000" stroke-width="0.17">1×10<tspan dy="-2.2" font-size="3.6">5</tspan></text>
<line x1="432.8" y1="271.03" x2="436.2" y2="271.03" stroke="#000" stroke-width="1"/>
<text x="432.2" y="272.98" font-size="5.8" font-weight="bold" text-anchor="end" fill="#000" stroke="#000" stroke-width="0.17">2×10<tspan dy="-2.2" font-size="3.6">5</tspan></text>
<line x1="432.8" y1="244.8" x2="436.2" y2="244.8" stroke="#000" stroke-width="1"/>
<text x="432.2" y="246.75" font-size="5.8" font-weight="bold" text-anchor="end" fill="#000" stroke="#000" stroke-width="0.17">3×10<tspan dy="-2.2" font-size="3.6">5</tspan></text>
<line x1="448.3" y1="323.5" x2="448.3" y2="326.7" stroke="#000" stroke-width="1"/>
<text x="449.7" y="332.6" font-size="6" font-weight="bold" text-anchor="end" fill="#000" transform="rotate(-45 449.7 332.6)" stroke="#000" stroke-width="0.18">mock</text>
<line x1="466.7" y1="323.5" x2="466.7" y2="326.7" stroke="#000" stroke-width="1"/>
<text x="468.1" y="332.6" font-size="6" font-weight="bold" text-anchor="end" fill="#000" transform="rotate(-45 468.1 332.6)" stroke="#000" stroke-width="0.18">100 ng</text>
<line x1="484.2" y1="323.5" x2="484.2" y2="326.7" stroke="#000" stroke-width="1"/>
<text x="485.6" y="332.6" font-size="6" font-weight="bold" text-anchor="end" fill="#000" transform="rotate(-45 485.6 332.6)" stroke="#000" stroke-width="0.18">200 ng</text>
<line x1="502.5" y1="323.5" x2="502.5" y2="326.7" stroke="#000" stroke-width="1"/>
<text x="503.9" y="332.6" font-size="6" font-weight="bold" text-anchor="end" fill="#000" transform="rotate(-45 503.9 332.6)" stroke="#000" stroke-width="0.18">300 ng</text>
<circle cx="443.9" cy="323.34" r="1.9" fill="#0d8bff"/>
<circle cx="448.3" cy="323.34" r="1.9" fill="#0d8bff"/>
<circle cx="452.7" cy="323.34" r="1.9" fill="#0d8bff"/>
<line x1="466.7" y1="263.82" x2="466.7" y2="268.54" stroke="#ff7075" stroke-width="0.8"/>
<line x1="464.1" y1="263.82" x2="469.3" y2="263.82" stroke="#ff7075" stroke-width="0.8"/>
<line x1="464.1" y1="268.54" x2="469.3" y2="268.54" stroke="#ff7075" stroke-width="0.8"/>
<line x1="461.5" y1="266.18" x2="471.9" y2="266.18" stroke="#ff7075" stroke-width="0.8"/>
<circle cx="462.3" cy="264.48" r="1.71" fill="#ff7075"/>
<circle cx="466.7" cy="269.2" r="1.71" fill="#ff7075"/>
<circle cx="471.1" cy="264.87" r="1.71" fill="#ff7075"/>
<line x1="484.2" y1="278.64" x2="484.2" y2="281.79" stroke="#06c435" stroke-width="0.8"/>
<line x1="481.6" y1="278.64" x2="486.8" y2="278.64" stroke="#06c435" stroke-width="0.8"/>
<line x1="481.6" y1="281.79" x2="486.8" y2="281.79" stroke="#06c435" stroke-width="0.8"/>
<line x1="479" y1="280.22" x2="489.4" y2="280.22" stroke="#06c435" stroke-width="0.8"/>
<circle cx="479.6" cy="280.61" r="1.9" fill="#06c435"/>
<circle cx="484.4" cy="280.22" r="1.9" fill="#06c435"/>
<circle cx="488.8" cy="279.82" r="1.9" fill="#06c435"/>
<line x1="497.3" y1="286.51" x2="507.7" y2="286.51" stroke="#f578f3" stroke-width="0.8"/>
<circle cx="498.3" cy="286.51" r="1.8" fill="#f578f3"/>
<circle cx="502.7" cy="286.51" r="1.8" fill="#f578f3"/>
<circle cx="506.9" cy="286.51" r="1.8" fill="#f578f3"/>
<line x1="468.3" y1="247.6" x2="502.5" y2="247.6" stroke="#000" stroke-width="1.5"/>
<text x="485.4" y="248.5" font-size="7.8" font-weight="bold" text-anchor="middle" fill="#000" stroke="#000" stroke-width="0.23">****</text>
<line x1="468.3" y1="260.4" x2="483.6" y2="260.4" stroke="#000" stroke-width="1.5"/>
<text x="475.95" y="261.3" font-size="7.8" font-weight="bold" text-anchor="middle" fill="#000" stroke="#000" stroke-width="0.23">****</text>
<line x1="486.6" y1="274.4" x2="502" y2="274.4" stroke="#000" stroke-width="1.5"/>
<text x="494.3" y="275.3" font-size="7.8" font-weight="bold" text-anchor="middle" fill="#000" stroke="#000" stroke-width="0.23">*</text>
<circle cx="479.6" cy="283.4" r="1.9" fill="#06c435"/>
<circle cx="479.6" cy="278.6" r="1.9" fill="#06c435"/>
<text x="3.5" y="362" font-size="12.6" font-weight="bold" text-anchor="start" fill="#000" stroke="#000" stroke-width="0.38">c</text>
<text x="81.9" y="367.6" font-size="6.5" font-weight="bold" text-anchor="middle" fill="#000" stroke="#000" stroke-width="0.2">Luciferase assay</text>
<line x1="31.9" y1="376.8" x2="31.9" y2="444.6" stroke="#000" stroke-width="0.9"/>
<line x1="31.5" y1="444.2" x2="132.6" y2="444.2" stroke="#000" stroke-width="0.9"/>
<line x1="29.5" y1="444.2" x2="31.9" y2="444.2" stroke="#000" stroke-width="0.9"/>
<text x="28.5" y="446.1" font-size="5.4" font-weight="bold" text-anchor="end" fill="#000" stroke="#000" stroke-width="0.16">10<tspan dy="-2.05" font-size="3.35">0</tspan></text>
<line x1="30.7" y1="441.32" x2="31.9" y2="441.32" stroke="#000" stroke-width="0.45"/>
<line x1="30.7" y1="439.63" x2="31.9" y2="439.63" stroke="#000" stroke-width="0.45"/>
<line x1="30.7" y1="438.44" x2="31.9" y2="438.44" stroke="#000" stroke-width="0.45"/>
<line x1="30.7" y1="437.51" x2="31.9" y2="437.51" stroke="#000" stroke-width="0.45"/>
<line x1="30.7" y1="436.75" x2="31.9" y2="436.75" stroke="#000" stroke-width="0.45"/>
<line x1="30.7" y1="436.11" x2="31.9" y2="436.11" stroke="#000" stroke-width="0.45"/>
<line x1="30.7" y1="435.56" x2="31.9" y2="435.56" stroke="#000" stroke-width="0.45"/>
<line x1="30.7" y1="435.07" x2="31.9" y2="435.07" stroke="#000" stroke-width="0.45"/>
<line x1="29.5" y1="434.63" x2="31.9" y2="434.63" stroke="#000" stroke-width="0.9"/>
<text x="28.5" y="436.53" font-size="5.4" font-weight="bold" text-anchor="end" fill="#000" stroke="#000" stroke-width="0.16">10<tspan dy="-2.05" font-size="3.35">1</tspan></text>
<line x1="30.7" y1="431.75" x2="31.9" y2="431.75" stroke="#000" stroke-width="0.45"/>
<line x1="30.7" y1="430.06" x2="31.9" y2="430.06" stroke="#000" stroke-width="0.45"/>
<line x1="30.7" y1="428.87" x2="31.9" y2="428.87" stroke="#000" stroke-width="0.45"/>
<line x1="30.7" y1="427.94" x2="31.9" y2="427.94" stroke="#000" stroke-width="0.45"/>
<line x1="30.7" y1="427.18" x2="31.9" y2="427.18" stroke="#000" stroke-width="0.45"/>
<line x1="30.7" y1="426.54" x2="31.9" y2="426.54" stroke="#000" stroke-width="0.45"/>
<line x1="30.7" y1="425.98" x2="31.9" y2="425.98" stroke="#000" stroke-width="0.45"/>
<line x1="30.7" y1="425.5" x2="31.9" y2="425.5" stroke="#000" stroke-width="0.45"/>
<line x1="29.5" y1="425.06" x2="31.9" y2="425.06" stroke="#000" stroke-width="0.9"/>
<text x="28.5" y="426.96" font-size="5.4" font-weight="bold" text-anchor="end" fill="#000" stroke="#000" stroke-width="0.16">10<tspan dy="-2.05" font-size="3.35">2</tspan></text>
<line x1="30.7" y1="422.18" x2="31.9" y2="422.18" stroke="#000" stroke-width="0.45"/>
<line x1="30.7" y1="420.49" x2="31.9" y2="420.49" stroke="#000" stroke-width="0.45"/>
<line x1="30.7" y1="419.29" x2="31.9" y2="419.29" stroke="#000" stroke-width="0.45"/>
<line x1="30.7" y1="418.37" x2="31.9" y2="418.37" stroke="#000" stroke-width="0.45"/>
<line x1="30.7" y1="417.61" x2="31.9" y2="417.61" stroke="#000" stroke-width="0.45"/>
<line x1="30.7" y1="416.97" x2="31.9" y2="416.97" stroke="#000" stroke-width="0.45"/>
<line x1="30.7" y1="416.41" x2="31.9" y2="416.41" stroke="#000" stroke-width="0.45"/>
<line x1="30.7" y1="415.92" x2="31.9" y2="415.92" stroke="#000" stroke-width="0.45"/>
<line x1="29.5" y1="415.49" x2="31.9" y2="415.49" stroke="#000" stroke-width="0.9"/>
<text x="28.5" y="417.39" font-size="5.4" font-weight="bold" text-anchor="end" fill="#000" stroke="#000" stroke-width="0.16">10<tspan dy="-2.05" font-size="3.35">3</tspan></text>
<line x1="30.7" y1="412.6" x2="31.9" y2="412.6" stroke="#000" stroke-width="0.45"/>
<line x1="30.7" y1="410.92" x2="31.9" y2="410.92" stroke="#000" stroke-width="0.45"/>
<line x1="30.7" y1="409.72" x2="31.9" y2="409.72" stroke="#000" stroke-width="0.45"/>
<line x1="30.7" y1="408.8" x2="31.9" y2="408.8" stroke="#000" stroke-width="0.45"/>
<line x1="30.7" y1="408.04" x2="31.9" y2="408.04" stroke="#000" stroke-width="0.45"/>
<line x1="30.7" y1="407.4" x2="31.9" y2="407.4" stroke="#000" stroke-width="0.45"/>
<line x1="30.7" y1="406.84" x2="31.9" y2="406.84" stroke="#000" stroke-width="0.45"/>
<line x1="30.7" y1="406.35" x2="31.9" y2="406.35" stroke="#000" stroke-width="0.45"/>
<line x1="29.5" y1="405.91" x2="31.9" y2="405.91" stroke="#000" stroke-width="0.9"/>
<text x="28.5" y="407.81" font-size="5.4" font-weight="bold" text-anchor="end" fill="#000" stroke="#000" stroke-width="0.16">10<tspan dy="-2.05" font-size="3.35">4</tspan></text>
<line x1="30.7" y1="403.03" x2="31.9" y2="403.03" stroke="#000" stroke-width="0.45"/>
<line x1="30.7" y1="401.35" x2="31.9" y2="401.35" stroke="#000" stroke-width="0.45"/>
<line x1="30.7" y1="400.15" x2="31.9" y2="400.15" stroke="#000" stroke-width="0.45"/>
<line x1="30.7" y1="399.22" x2="31.9" y2="399.22" stroke="#000" stroke-width="0.45"/>
<line x1="30.7" y1="398.47" x2="31.9" y2="398.47" stroke="#000" stroke-width="0.45"/>
<line x1="30.7" y1="397.83" x2="31.9" y2="397.83" stroke="#000" stroke-width="0.45"/>
<line x1="30.7" y1="397.27" x2="31.9" y2="397.27" stroke="#000" stroke-width="0.45"/>
<line x1="30.7" y1="396.78" x2="31.9" y2="396.78" stroke="#000" stroke-width="0.45"/>
<line x1="29.5" y1="396.34" x2="31.9" y2="396.34" stroke="#000" stroke-width="0.9"/>
<text x="28.5" y="398.24" font-size="5.4" font-weight="bold" text-anchor="end" fill="#000" stroke="#000" stroke-width="0.16">10<tspan dy="-2.05" font-size="3.35">5</tspan></text>
<line x1="30.7" y1="393.46" x2="31.9" y2="393.46" stroke="#000" stroke-width="0.45"/>
<line x1="30.7" y1="391.78" x2="31.9" y2="391.78" stroke="#000" stroke-width="0.45"/>
<line x1="30.7" y1="390.58" x2="31.9" y2="390.58" stroke="#000" stroke-width="0.45"/>
<line x1="30.7" y1="389.65" x2="31.9" y2="389.65" stroke="#000" stroke-width="0.45"/>
<line x1="30.7" y1="388.89" x2="31.9" y2="388.89" stroke="#000" stroke-width="0.45"/>
<line x1="30.7" y1="388.25" x2="31.9" y2="388.25" stroke="#000" stroke-width="0.45"/>
<line x1="30.7" y1="387.7" x2="31.9" y2="387.7" stroke="#000" stroke-width="0.45"/>
<line x1="30.7" y1="387.21" x2="31.9" y2="387.21" stroke="#000" stroke-width="0.45"/>
<line x1="29.5" y1="386.77" x2="31.9" y2="386.77" stroke="#000" stroke-width="0.9"/>
<text x="28.5" y="388.67" font-size="5.4" font-weight="bold" text-anchor="end" fill="#000" stroke="#000" stroke-width="0.16">10<tspan dy="-2.05" font-size="3.35">6</tspan></text>
<line x1="30.7" y1="383.89" x2="31.9" y2="383.89" stroke="#000" stroke-width="0.45"/>
<line x1="30.7" y1="382.2" x2="31.9" y2="382.2" stroke="#000" stroke-width="0.45"/>
<line x1="30.7" y1="381.01" x2="31.9" y2="381.01" stroke="#000" stroke-width="0.45"/>
<line x1="30.7" y1="380.08" x2="31.9" y2="380.08" stroke="#000" stroke-width="0.45"/>
<line x1="30.7" y1="379.32" x2="31.9" y2="379.32" stroke="#000" stroke-width="0.45"/>
<line x1="30.7" y1="378.68" x2="31.9" y2="378.68" stroke="#000" stroke-width="0.45"/>
<line x1="30.7" y1="378.13" x2="31.9" y2="378.13" stroke="#000" stroke-width="0.45"/>
<line x1="30.7" y1="377.64" x2="31.9" y2="377.64" stroke="#000" stroke-width="0.45"/>
<line x1="29.5" y1="377.2" x2="31.9" y2="377.2" stroke="#000" stroke-width="0.9"/>
<text x="28.5" y="379.1" font-size="5.4" font-weight="bold" text-anchor="end" fill="#000" stroke="#000" stroke-width="0.16">10<tspan dy="-2.05" font-size="3.35">7</tspan></text>
<text x="9.3" y="412.2" font-size="5.2" font-weight="bold" text-anchor="middle" fill="#000" transform="rotate(-90 9.3 412.2)" stroke="#000" stroke-width="0.16">RLU</text>
<line x1="38" y1="444.2" x2="38" y2="446.6" stroke="#000" stroke-width="0.9"/>
<text x="38" y="452.1" font-size="4.8" font-weight="bold" text-anchor="middle" fill="#000" stroke="#000" stroke-width="0.14">D3</text>
<text x="38" y="456.3" font-size="2.7" font-weight="bold" text-anchor="middle" fill="#222" stroke="#222" stroke-width="0.12">p.i.</text>
<line x1="47.73" y1="444.2" x2="47.73" y2="446.6" stroke="#000" stroke-width="0.9"/>
<text x="47.73" y="452.1" font-size="4.8" font-weight="bold" text-anchor="middle" fill="#000" stroke="#000" stroke-width="0.14">D5</text>
<text x="47.73" y="456.3" font-size="2.7" font-weight="bold" text-anchor="middle" fill="#222" stroke="#222" stroke-width="0.12">p.i.</text>
<line x1="57.46" y1="444.2" x2="57.46" y2="446.6" stroke="#000" stroke-width="0.9"/>
<text x="57.46" y="452.1" font-size="4.8" font-weight="bold" text-anchor="middle" fill="#000" stroke="#000" stroke-width="0.14">D7</text>
<text x="57.46" y="456.3" font-size="2.7" font-weight="bold" text-anchor="middle" fill="#222" stroke="#222" stroke-width="0.12">p.i.</text>
<line x1="67.19" y1="444.2" x2="67.19" y2="446.6" stroke="#000" stroke-width="0.9"/>
<text x="67.19" y="452.1" font-size="4.8" font-weight="bold" text-anchor="middle" fill="#000" stroke="#000" stroke-width="0.14">D11</text>
<text x="67.19" y="456.3" font-size="2.7" font-weight="bold" text-anchor="middle" fill="#222" stroke="#222" stroke-width="0.12">p.i.</text>
<line x1="76.92" y1="444.2" x2="76.92" y2="446.6" stroke="#000" stroke-width="0.9"/>
<text x="76.92" y="452.1" font-size="4.8" font-weight="bold" text-anchor="middle" fill="#000" stroke="#000" stroke-width="0.14">D14</text>
<text x="76.92" y="456.3" font-size="2.7" font-weight="bold" text-anchor="middle" fill="#222" stroke="#222" stroke-width="0.12">p.i.</text>
<line x1="86.65" y1="444.2" x2="86.65" y2="446.6" stroke="#000" stroke-width="0.9"/>
<text x="86.65" y="452.1" font-size="4.8" font-weight="bold" text-anchor="middle" fill="#000" stroke="#000" stroke-width="0.14">D18</text>
<text x="86.65" y="456.3" font-size="2.7" font-weight="bold" text-anchor="middle" fill="#222" stroke="#222" stroke-width="0.12">p.i.</text>
<line x1="96.38" y1="444.2" x2="96.38" y2="446.6" stroke="#000" stroke-width="0.9"/>
<text x="96.38" y="452.1" font-size="4.8" font-weight="bold" text-anchor="middle" fill="#000" stroke="#000" stroke-width="0.14">D21</text>
<text x="96.38" y="456.3" font-size="2.7" font-weight="bold" text-anchor="middle" fill="#222" stroke="#222" stroke-width="0.12">p.i.</text>
<line x1="106.11" y1="444.2" x2="106.11" y2="446.6" stroke="#000" stroke-width="0.9"/>
<text x="106.11" y="452.1" font-size="4.8" font-weight="bold" text-anchor="middle" fill="#000" stroke="#000" stroke-width="0.14">D25</text>
<text x="106.11" y="456.3" font-size="2.7" font-weight="bold" text-anchor="middle" fill="#222" stroke="#222" stroke-width="0.12">p.i.</text>
<line x1="115.84" y1="444.2" x2="115.84" y2="446.6" stroke="#000" stroke-width="0.9"/>
<text x="115.84" y="452.1" font-size="4.8" font-weight="bold" text-anchor="middle" fill="#000" stroke="#000" stroke-width="0.14">D28</text>
<text x="115.84" y="456.3" font-size="2.7" font-weight="bold" text-anchor="middle" fill="#222" stroke="#222" stroke-width="0.12">p.i.</text>
<line x1="125.57" y1="444.2" x2="125.57" y2="446.6" stroke="#000" stroke-width="0.9"/>
<text x="125.57" y="452.1" font-size="4.8" font-weight="bold" text-anchor="middle" fill="#000" stroke="#000" stroke-width="0.14">D32</text>
<text x="125.57" y="456.3" font-size="2.7" font-weight="bold" text-anchor="middle" fill="#222" stroke="#222" stroke-width="0.12">p.i.</text>
<text x="80.5" y="461.4" font-size="4.6" font-weight="bold" text-anchor="middle" fill="#000" stroke="#000" stroke-width="0.14">Times</text>
<line x1="67.19" y1="433.1" x2="67.19" y2="438.36" stroke="#ff7075" stroke-width="0.7"/>
<line x1="65.69" y1="433.1" x2="68.69" y2="433.1" stroke="#ff7075" stroke-width="0.7"/>
<line x1="65.69" y1="438.36" x2="68.69" y2="438.36" stroke="#ff7075" stroke-width="0.7"/>
<line x1="86.65" y1="435.2" x2="86.65" y2="436.16" stroke="#ff7075" stroke-width="0.7"/>
<line x1="85.15" y1="435.2" x2="88.15" y2="435.2" stroke="#ff7075" stroke-width="0.7"/>
<line x1="85.15" y1="436.16" x2="88.15" y2="436.16" stroke="#ff7075" stroke-width="0.7"/>
<polyline points="38,385.05 47.73,400.75 57.46,421.23 67.19,435.49 76.92,438.27 86.65,436.16 96.38,441.04 106.11,440.28 115.84,441.9 125.57,441.9" fill="none" stroke="#ff7075" stroke-width="1" stroke-linejoin="round"/>
<circle cx="38" cy="385.05" r="1.25" fill="#ff7075"/>
<circle cx="47.73" cy="400.75" r="1.25" fill="#ff7075"/>
<circle cx="57.46" cy="421.23" r="1.25" fill="#ff7075"/>
<circle cx="67.19" cy="435.49" r="1.25" fill="#ff7075"/>
<circle cx="76.92" cy="438.27" r="1.25" fill="#ff7075"/>
<circle cx="86.65" cy="436.16" r="1.25" fill="#ff7075"/>
<circle cx="96.38" cy="441.04" r="1.25" fill="#ff7075"/>
<circle cx="106.11" cy="440.28" r="1.25" fill="#ff7075"/>
<circle cx="115.84" cy="441.9" r="1.25" fill="#ff7075"/>
<circle cx="125.57" cy="441.9" r="1.25" fill="#ff7075"/>
<line x1="57.46" y1="397.4" x2="57.46" y2="400.27" stroke="#0d8bff" stroke-width="0.7"/>
<line x1="55.96" y1="397.4" x2="58.96" y2="397.4" stroke="#0d8bff" stroke-width="0.7"/>
<line x1="55.96" y1="400.27" x2="58.96" y2="400.27" stroke="#0d8bff" stroke-width="0.7"/>
<line x1="67.19" y1="398.35" x2="67.19" y2="406.49" stroke="#0d8bff" stroke-width="0.7"/>
<line x1="65.69" y1="398.35" x2="68.69" y2="398.35" stroke="#0d8bff" stroke-width="0.7"/>
<line x1="65.69" y1="406.49" x2="68.69" y2="406.49" stroke="#0d8bff" stroke-width="0.7"/>
<line x1="76.92" y1="398.83" x2="76.92" y2="401.7" stroke="#0d8bff" stroke-width="0.7"/>
<line x1="75.42" y1="398.83" x2="78.42" y2="398.83" stroke="#0d8bff" stroke-width="0.7"/>
<line x1="75.42" y1="401.7" x2="78.42" y2="401.7" stroke="#0d8bff" stroke-width="0.7"/>
<line x1="86.65" y1="399.69" x2="86.65" y2="413.57" stroke="#0d8bff" stroke-width="0.7"/>
<line x1="85.15" y1="399.69" x2="88.15" y2="399.69" stroke="#0d8bff" stroke-width="0.7"/>
<line x1="85.15" y1="413.57" x2="88.15" y2="413.57" stroke="#0d8bff" stroke-width="0.7"/>
<line x1="96.38" y1="399.02" x2="96.38" y2="405.24" stroke="#0d8bff" stroke-width="0.7"/>
<line x1="94.88" y1="399.02" x2="97.88" y2="399.02" stroke="#0d8bff" stroke-width="0.7"/>
<line x1="94.88" y1="405.24" x2="97.88" y2="405.24" stroke="#0d8bff" stroke-width="0.7"/>
<line x1="106.11" y1="402.28" x2="106.11" y2="408.98" stroke="#0d8bff" stroke-width="0.7"/>
<line x1="104.61" y1="402.28" x2="107.61" y2="402.28" stroke="#0d8bff" stroke-width="0.7"/>
<line x1="104.61" y1="408.98" x2="107.61" y2="408.98" stroke="#0d8bff" stroke-width="0.7"/>
<line x1="115.84" y1="404.77" x2="115.84" y2="406.68" stroke="#0d8bff" stroke-width="0.7"/>
<line x1="114.34" y1="404.77" x2="117.34" y2="404.77" stroke="#0d8bff" stroke-width="0.7"/>
<line x1="114.34" y1="406.68" x2="117.34" y2="406.68" stroke="#0d8bff" stroke-width="0.7"/>
<line x1="125.57" y1="405.53" x2="125.57" y2="411.75" stroke="#0d8bff" stroke-width="0.7"/>
<line x1="124.07" y1="405.53" x2="127.07" y2="405.53" stroke="#0d8bff" stroke-width="0.7"/>
<line x1="124.07" y1="411.75" x2="127.07" y2="411.75" stroke="#0d8bff" stroke-width="0.7"/>
<polyline points="38,387.73 47.73,391.75 57.46,398.83 67.19,401.22 76.92,400.27 86.65,402.56 96.38,401.42 106.11,404.67 115.84,405.72 125.57,407.92" fill="none" stroke="#0d8bff" stroke-width="1.3" stroke-linejoin="round"/>
<circle cx="38" cy="387.73" r="1.8" fill="#0d8bff"/>
<circle cx="47.73" cy="391.75" r="1.8" fill="#0d8bff"/>
<circle cx="57.46" cy="398.83" r="1.8" fill="#0d8bff"/>
<circle cx="67.19" cy="401.22" r="1.8" fill="#0d8bff"/>
<circle cx="76.92" cy="400.27" r="1.8" fill="#0d8bff"/>
<circle cx="86.65" cy="402.56" r="1.8" fill="#0d8bff"/>
<circle cx="96.38" cy="401.42" r="1.8" fill="#0d8bff"/>
<circle cx="106.11" cy="404.67" r="1.8" fill="#0d8bff"/>
<circle cx="115.84" cy="405.72" r="1.8" fill="#0d8bff"/>
<circle cx="125.57" cy="407.92" r="1.8" fill="#0d8bff"/>
<line x1="44" y1="380.9" x2="52" y2="380.9" stroke="#0d8bff" stroke-width="1.2"/>
<circle cx="48" cy="380.9" r="1.6" fill="#0d8bff"/>
<text x="56" y="382.8" font-size="5.4" font-weight="normal" text-anchor="start" fill="#2a72c4">LNP-saRNA</text>
<line x1="93.6" y1="380.9" x2="101" y2="380.9" stroke="#ff7075" stroke-width="1"/>
<circle cx="97.3" cy="380.9" r="1.25" fill="#ff7075"/>
<text x="105.8" y="382.8" font-size="5.35" font-weight="normal" text-anchor="start" fill="#e8585e">LNP-mRNA</text>
<text x="140.7" y="361.8" font-size="12.6" font-weight="bold" text-anchor="start" fill="#000" stroke="#000" stroke-width="0.38">e</text>
<defs>
<linearGradient id="mg" x1="0" x2="1" y1="0" y2="0">
<stop offset="0" stop-color="#5c5c5c"/><stop offset="0.22" stop-color="#9a9a9a"/>
<stop offset="0.5" stop-color="#b9b9b9"/><stop offset="0.78" stop-color="#9a9a9a"/>
<stop offset="1" stop-color="#5c5c5c"/></linearGradient>
<linearGradient id="cbar" x1="0" x2="0" y1="0" y2="1">
<stop offset="0" stop-color="#ff1010"/><stop offset="0.13" stop-color="#ff2a08"/>
<stop offset="0.22" stop-color="#ff8a00"/><stop offset="0.31" stop-color="#f6f000"/>
<stop offset="0.42" stop-color="#52e400"/><stop offset="0.55" stop-color="#10e048"/>
<stop offset="0.69" stop-color="#00dcec"/><stop offset="0.80" stop-color="#0a70ff"/>
<stop offset="0.92" stop-color="#2418ff"/><stop offset="1" stop-color="#8a10e6"/>
</linearGradient>
</defs>
<filter id="bl" x="-50%" y="-50%" width="200%" height="200%"><feGaussianBlur stdDeviation="0.6"/></filter>
<filter id="me" x="-20%" y="-20%" width="140%" height="140%"><feGaussianBlur stdDeviation="6"/></filter>
<filter id="ms" x="-10%" y="-10%" width="120%" height="120%"><feGaussianBlur stdDeviation="1.6"/></filter>
<filter id="mh" x="-50%" y="-50%" width="200%" height="200%"><feGaussianBlur stdDeviation="14"/></filter>
<clipPath id="ce0"><rect x="151.2" y="356.5" width="71" height="91.8"/></clipPath>
<rect x="151.2" y="356.5" width="71" height="91.8" fill="#0e0e0e"/>
<g clip-path="url(#ce0)">
<rect x="151.2" y="356.5" width="71" height="12.2" fill="#181818"/>
<rect x="154" y="357.1" width="4.2" height="10.6" fill="#313131" filter="url(#bt)"/>
<rect x="173.5" y="357.1" width="5.5" height="10.6" fill="#313131" filter="url(#bt)"/>
<rect x="198.4" y="357.1" width="4.1" height="10.6" fill="#313131" filter="url(#bt)"/>
<rect x="186.05" y="356.5" width="1.1" height="9" fill="#e6e6e6"/>
<rect x="189.85" y="356.5" width="1.1" height="9" fill="#e6e6e6"/>
<g transform="translate(150 355) scale(0.20218)">
<clipPath id="mc0"><path d="M160,53 L226,53 C228,62 231,70 233,78 C240,74 258,80 259,96 C260,110 250,120 240,120 C244,128 250,134 253,140 C258,150 260,160 259,172 C258,186 257,196 256,205 C254,215 252,224 250,232 C252,242 254,250 256,256 C259,268 261,278 263,289 C267,301 271,312 273,322 C277,335 279,346 278,356 C278,366 277,372 276,378 C272,384 266,388 262,390 L330,393 C342,396 340,410 328,408 L258,406 C252,400 250,396 249,390 C235,398 215,412 196,424 L194,470 L178,470 L176,424 C160,410 135,392 120,384 C118,392 116,398 112,402 L35,408 C18,408 16,392 30,390 L100,384 C100,378 102,372 103,366 C98,356 96,340 97,322 C99,310 102,298 107,289 C114,276 122,266 130,256 C136,246 139,236 140,226 C140,216 142,210 143,205 C140,198 136,192 132,186 C128,196 120,196 117,190 C114,180 120,168 128,160 C130,152 132,146 136,138 C140,128 144,116 148,105 C150,96 151,86 152,78 C154,70 157,62 160,53 Z"/></clipPath>
<g filter="url(#ms)"><g clip-path="url(#mc0)">
<rect x="0" y="0" width="380" height="480" fill="#adadad"/>
<ellipse cx="196" cy="250" rx="26" ry="150" fill="#c0c0c0" filter="url(#mh)"/>
<ellipse cx="196" cy="90" rx="34" ry="34" fill="#bababa" filter="url(#mh)"/>
<path d="M160,53 L226,53 C228,62 231,70 233,78 C240,74 258,80 259,96 C260,110 250,120 240,120 C244,128 250,134 253,140 C258,150 260,160 259,172 C258,186 257,196 256,205 C254,215 252,224 250,232 C252,242 254,250 256,256 C259,268 261,278 263,289 C267,301 271,312 273,322 C277,335 279,346 278,356 C278,366 277,372 276,378 C272,384 266,388 262,390 L330,393 C342,396 340,410 328,408 L258,406 C252,400 250,396 249,390 C235,398 215,412 196,424 L194,470 L178,470 L176,424 C160,410 135,392 120,384 C118,392 116,398 112,402 L35,408 C18,408 16,392 30,390 L100,384 C100,378 102,372 103,366 C98,356 96,340 97,322 C99,310 102,298 107,289 C114,276 122,266 130,256 C136,246 139,236 140,226 C140,216 142,210 143,205 C140,198 136,192 132,186 C128,196 120,196 117,190 C114,180 120,168 128,160 C130,152 132,146 136,138 C140,128 144,116 148,105 C150,96 151,86 152,78 C154,70 157,62 160,53 Z" fill="none" stroke="#505050" stroke-width="10" filter="url(#me)"/>
<line x1="36" y1="399" x2="104" y2="393" stroke="#a8a8a8" stroke-width="10" stroke-linecap="round"/>
<line x1="262" y1="398" x2="328" y2="400" stroke="#a8a8a8" stroke-width="10" stroke-linecap="round"/>
<line x1="186" y1="430" x2="186" y2="470" stroke="#a8a8a8" stroke-width="10" stroke-linecap="round"/>
</g></g>
</g>
</g>
<text x="186.7" y="457.2" font-size="8.4" font-weight="bold" text-anchor="middle" fill="#000" stroke="#000" stroke-width="0.25">D1</text>
<clipPath id="ce1"><rect x="231" y="356.5" width="71.8" height="91.8"/></clipPath>
<rect x="231" y="356.5" width="71.8" height="91.8" fill="#0e0e0e"/>
<g clip-path="url(#ce1)">
<rect x="231" y="356.5" width="71.8" height="9.6" fill="#181818"/>
<rect x="235.4" y="357.1" width="4.6" height="8" fill="#313131" filter="url(#bt)"/>
<rect x="254.9" y="357.1" width="4" height="8" fill="#313131" filter="url(#bt)"/>
<rect x="280.5" y="357.1" width="4" height="8" fill="#313131" filter="url(#bt)"/>
<rect x="267.35" y="356.5" width="1.1" height="5.6" fill="#e6e6e6"/>
<rect x="271.45" y="356.5" width="1.1" height="5.6" fill="#e6e6e6"/>
<g transform="translate(230 355) scale(0.20218)">
<clipPath id="mc1"><path d="M178,35 L225,35 C230,48 234,60 236,72 C238,80 240,86 242,90 C256,84 280,92 279,106 C278,118 256,122 244,118 C246,126 250,132 256,138 C260,150 260,162 259,172 C258,190 254,200 252,206 C250,215 249,225 250,232 C251,245 252,250 253,256 C254,270 255,280 256,290 C258,305 262,318 268,330 C278,345 284,360 283,375 C282,390 276,398 268,402 L330,424 C342,430 340,444 326,440 L262,412 C245,404 228,402 220,404 C210,410 204,420 200,436 L197,470 L181,470 L178,436 C176,420 170,408 160,402 C140,398 110,400 90,404 L30,420 C10,422 8,400 22,398 L88,388 C84,372 86,355 92,345 C100,330 108,318 116,305 C124,290 130,272 136,256 C140,245 143,238 143,230 C142,220 140,212 140,205 C135,192 132,182 133,172 C134,160 134,148 138,138 C145,132 152,126 158,120 C146,122 140,108 148,100 C152,92 160,88 164,88 C164,80 166,76 168,70 C170,58 174,46 178,35 Z"/></clipPath>
<g filter="url(#ms)"><g clip-path="url(#mc1)">
<rect x="0" y="0" width="380" height="480" fill="#adadad"/>
<ellipse cx="198" cy="250" rx="26" ry="150" fill="#c0c0c0" filter="url(#mh)"/>
<ellipse cx="198" cy="90" rx="34" ry="34" fill="#bababa" filter="url(#mh)"/>
<path d="M178,35 L225,35 C230,48 234,60 236,72 C238,80 240,86 242,90 C256,84 280,92 279,106 C278,118 256,122 244,118 C246,126 250,132 256,138 C260,150 260,162 259,172 C258,190 254,200 252,206 C250,215 249,225 250,232 C251,245 252,250 253,256 C254,270 255,280 256,290 C258,305 262,318 268,330 C278,345 284,360 283,375 C282,390 276,398 268,402 L330,424 C342,430 340,444 326,440 L262,412 C245,404 228,402 220,404 C210,410 204,420 200,436 L197,470 L181,470 L178,436 C176,420 170,408 160,402 C140,398 110,400 90,404 L30,420 C10,422 8,400 22,398 L88,388 C84,372 86,355 92,345 C100,330 108,318 116,305 C124,290 130,272 136,256 C140,245 143,238 143,230 C142,220 140,212 140,205 C135,192 132,182 133,172 C134,160 134,148 138,138 C145,132 152,126 158,120 C146,122 140,108 148,100 C152,92 160,88 164,88 C164,80 166,76 168,70 C170,58 174,46 178,35 Z" fill="none" stroke="#505050" stroke-width="10" filter="url(#me)"/>
<line x1="26" y1="409" x2="92" y2="397" stroke="#a8a8a8" stroke-width="10" stroke-linecap="round"/>
<line x1="272" y1="410" x2="328" y2="432" stroke="#a8a8a8" stroke-width="10" stroke-linecap="round"/>
<line x1="189" y1="440" x2="189" y2="470" stroke="#a8a8a8" stroke-width="10" stroke-linecap="round"/>
</g></g>
</g>
</g>
<text x="268.4" y="457.2" font-size="8.4" font-weight="bold" text-anchor="middle" fill="#000" stroke="#000" stroke-width="0.25">D14</text>
<clipPath id="ce2"><rect x="312" y="356.5" width="52.8" height="91.8"/></clipPath>
<rect x="312" y="356.5" width="52.8" height="91.8" fill="#0e0e0e"/>
<g clip-path="url(#ce2)">
<rect x="312" y="356.5" width="52.8" height="11" fill="#181818"/>
<rect x="327.2" y="357.1" width="5.4" height="9.4" fill="#313131" filter="url(#bt)"/>
<rect x="352" y="357.1" width="4.8" height="9.4" fill="#313131" filter="url(#bt)"/>
<rect x="339.15" y="356.5" width="1.1" height="8.2" fill="#e6e6e6"/>
<rect x="343.25" y="356.5" width="1.1" height="8.2" fill="#e6e6e6"/>
<g transform="translate(305 355) scale(0.20218)">
<clipPath id="mc2"><path d="M148,50 L216,50 C218,60 221,70 223,78 C226,86 228,92 230,98 C240,94 256,98 254,108 C252,120 240,128 232,126 C233,130 233,134 233,138 C234,150 233,160 233,171 C233,185 233,195 233,205 C234,215 233,222 230,226 C226,240 224,248 223,256 C221,268 220,278 220,289 C222,300 226,312 230,322 C236,335 240,350 240,366 C250,368 258,372 259,380 C256,400 244,420 230,436 C224,436 216,430 214,424 C200,436 180,448 162,456 L160,470 L143,470 L143,456 C130,448 105,436 90,424 C80,420 66,412 60,402 C54,390 52,370 56,356 C62,352 68,354 72,358 C74,345 80,332 88,322 C92,310 95,300 96,289 C99,278 101,268 103,256 C106,245 108,235 110,223 C109,215 109,210 110,205 C108,190 106,180 106,171 C105,160 105,150 105,138 C106,128 110,115 113,105 C118,100 128,92 136,78 C140,70 144,60 148,50 Z"/></clipPath>
<g filter="url(#ms)"><g clip-path="url(#mc2)">
<rect x="0" y="0" width="380" height="480" fill="#adadad"/>
<ellipse cx="170" cy="250" rx="26" ry="150" fill="#c0c0c0" filter="url(#mh)"/>
<ellipse cx="170" cy="90" rx="34" ry="34" fill="#bababa" filter="url(#mh)"/>
<path d="M148,50 L216,50 C218,60 221,70 223,78 C226,86 228,92 230,98 C240,94 256,98 254,108 C252,120 240,128 232,126 C233,130 233,134 233,138 C234,150 233,160 233,171 C233,185 233,195 233,205 C234,215 233,222 230,226 C226,240 224,248 223,256 C221,268 220,278 220,289 C222,300 226,312 230,322 C236,335 240,350 240,366 C250,368 258,372 259,380 C256,400 244,420 230,436 C224,436 216,430 214,424 C200,436 180,448 162,456 L160,470 L143,470 L143,456 C130,448 105,436 90,424 C80,420 66,412 60,402 C54,390 52,370 56,356 C62,352 68,354 72,358 C74,345 80,332 88,322 C92,310 95,300 96,289 C99,278 101,268 103,256 C106,245 108,235 110,223 C109,215 109,210 110,205 C108,190 106,180 106,171 C105,160 105,150 105,138 C106,128 110,115 113,105 C118,100 128,92 136,78 C140,70 144,60 148,50 Z" fill="none" stroke="#505050" stroke-width="10" filter="url(#me)"/>
</g></g>
</g>
</g>
<text x="338.5" y="457.2" font-size="8.4" font-weight="bold" text-anchor="middle" fill="#000" stroke="#000" stroke-width="0.25">D28</text>
<g filter="url(#bl)">
<path d="M201.76,416.87 C202.77,417.34 204.49,420.91 205.2,422.93 C205.9,424.96 206.34,427.31 206,429 C205.67,430.68 204.56,432.3 203.17,433.04 C201.79,433.78 199.5,433.41 197.72,433.45 C195.93,433.48 192.8,434.32 192.46,433.25 C192.12,432.17 194.58,429.17 195.69,426.98 C196.81,424.79 198.12,421.79 199.13,420.1 C200.14,418.42 200.75,416.4 201.76,416.87 Z" fill="#6a10f0"/>
<path d="M201.23,419.13 C202.04,419.51 203.42,422.37 203.98,423.99 C204.55,425.6 204.9,427.49 204.63,428.84 C204.36,430.19 203.47,431.48 202.37,432.07 C201.26,432.67 199.43,432.37 198,432.4 C196.57,432.42 194.06,433.1 193.79,432.23 C193.52,431.37 195.49,428.97 196.38,427.22 C197.27,425.47 198.32,423.07 199.13,421.72 C199.94,420.37 200.42,418.76 201.23,419.13 Z" fill="#1030ff"/>
<path d="M200.71,421.4 C201.31,421.68 202.35,423.82 202.77,425.04 C203.19,426.25 203.46,427.66 203.26,428.68 C203.05,429.69 202.39,430.66 201.56,431.1 C200.73,431.55 199.35,431.32 198.28,431.34 C197.21,431.36 195.33,431.87 195.13,431.22 C194.93,430.58 196.4,428.78 197.07,427.46 C197.74,426.15 198.52,424.35 199.13,423.34 C199.74,422.33 200.1,421.11 200.71,421.4 Z" fill="#00b8ff"/>
<path d="M200.29,423.21 C200.73,423.42 201.49,424.99 201.8,425.88 C202.11,426.77 202.3,427.8 202.16,428.55 C202.01,429.29 201.52,430 200.91,430.33 C200.3,430.65 199.29,430.49 198.51,430.5 C197.72,430.52 196.34,430.89 196.19,430.41 C196.05,429.94 197.13,428.62 197.62,427.66 C198.11,426.69 198.69,425.37 199.13,424.63 C199.58,423.89 199.84,423 200.29,423.21 Z" fill="#00e060"/>
</g>
<g filter="url(#bl)">
<path d="M255.27,419.9 C256.96,420.24 259.05,422.77 260.33,424.75 C261.61,426.74 262.69,429.98 262.96,431.83 C263.23,433.68 263.39,435.06 261.95,435.87 C260.5,436.68 256.49,436.95 254.26,436.68 C252.04,436.41 249.68,435.67 248.6,434.26 C247.52,432.84 247.52,430.11 247.79,428.19 C248.06,426.27 248.97,424.11 250.22,422.73 C251.47,421.35 253.59,419.56 255.27,419.9 Z" fill="#6a10f0"/>
<path d="M254.79,422.17 C256.14,422.43 257.81,424.46 258.83,426.05 C259.86,427.64 260.72,430.23 260.93,431.71 C261.15,433.19 261.28,434.3 260.13,434.94 C258.97,435.59 255.76,435.81 253.98,435.59 C252.2,435.37 250.31,434.78 249.45,433.65 C248.59,432.52 248.59,430.33 248.8,428.8 C249.02,427.26 249.75,425.54 250.74,424.43 C251.74,423.32 253.44,421.9 254.79,422.17 Z" fill="#1030ff"/>
<path d="M254.3,424.43 C255.31,424.63 256.57,426.15 257.34,427.34 C258.1,428.53 258.75,430.48 258.91,431.59 C259.07,432.7 259.18,433.53 258.31,434.01 C257.44,434.5 255.03,434.66 253.7,434.5 C252.36,434.34 250.95,433.89 250.3,433.04 C249.65,432.19 249.65,430.56 249.81,429.4 C249.98,428.25 250.52,426.96 251.27,426.13 C252.02,425.3 253.29,424.23 254.3,424.43 Z" fill="#00b8ff"/>
<path d="M253.91,426.24 C254.66,426.39 255.57,427.5 256.14,428.38 C256.7,429.25 257.18,430.67 257.29,431.49 C257.41,432.31 257.49,432.91 256.85,433.27 C256.21,433.63 254.45,433.74 253.47,433.63 C252.49,433.51 251.45,433.18 250.98,432.56 C250.5,431.93 250.5,430.73 250.62,429.89 C250.74,429.04 251.14,428.09 251.69,427.49 C252.24,426.88 253.17,426.09 253.91,426.24 Z" fill="#00e060"/>
<path d="M253.57,427.83 C254.08,427.93 254.71,428.69 255.09,429.28 C255.48,429.88 255.8,430.85 255.88,431.41 C255.96,431.96 256.01,432.38 255.58,432.62 C255.14,432.86 253.94,432.94 253.27,432.86 C252.6,432.78 251.9,432.56 251.57,432.13 C251.25,431.71 251.25,430.89 251.33,430.31 C251.41,429.74 251.68,429.09 252.06,428.68 C252.43,428.26 253.07,427.73 253.57,427.83 Z" fill="#e8f000"/>
<path d="M253.21,429.52 C253.46,429.58 253.78,429.95 253.97,430.25 C254.16,430.55 254.32,431.04 254.36,431.31 C254.4,431.59 254.43,431.8 254.21,431.92 C253.99,432.04 253.39,432.08 253.06,432.04 C252.73,432 252.37,431.89 252.21,431.68 C252.05,431.47 252.05,431.06 252.09,430.77 C252.13,430.48 252.27,430.16 252.45,429.95 C252.64,429.74 252.96,429.47 253.21,429.52 Z" fill="#ff3000"/>
</g>
<g filter="url(#bl)">
<path d="M282.97,422.93 C284.15,423 285.6,426.03 286.21,427.79 C286.81,429.54 287.02,432.03 286.61,433.45 C286.21,434.86 284.86,436.28 283.78,436.28 C282.7,436.28 280.92,434.93 280.14,433.45 C279.37,431.96 278.66,429.13 279.13,427.38 C279.6,425.63 281.79,422.87 282.97,422.93 Z" fill="#6a10f0"/>
<path d="M283.09,424.31 C284.04,424.36 285.2,426.79 285.68,428.19 C286.17,429.59 286.33,431.59 286,432.72 C285.68,433.85 284.6,434.98 283.74,434.98 C282.88,434.98 281.45,433.91 280.83,432.72 C280.21,431.53 279.64,429.27 280.02,427.87 C280.4,426.47 282.15,424.25 283.09,424.31 Z" fill="#1030ff"/>
<path d="M283.21,425.68 C283.92,425.72 284.79,427.54 285.16,428.59 C285.52,429.65 285.64,431.14 285.4,431.99 C285.16,432.84 284.35,433.69 283.7,433.69 C283.05,433.69 281.98,432.88 281.52,431.99 C281.05,431.1 280.63,429.4 280.91,428.35 C281.19,427.3 282.51,425.64 283.21,425.68 Z" fill="#00b8ff"/>
</g>
<g filter="url(#bl)">
<path d="M324.51,418.89 C326.19,418.89 328.52,421.52 329.87,423.54 C331.21,425.56 331.9,428.56 332.58,431.02 C333.25,433.48 334.25,436.61 333.91,438.3 C333.58,439.98 332.35,441.13 330.56,441.13 C328.76,441.13 324.99,439.98 323.16,438.3 C321.32,436.61 320.1,433.48 319.54,431.02 C318.98,428.56 318.97,425.56 319.8,423.54 C320.63,421.52 322.83,418.89 324.51,418.89 Z" fill="#6a10f0"/>
<path d="M324.25,421.15 C325.59,421.15 327.46,423.26 328.53,424.87 C329.61,426.49 330.16,428.89 330.7,430.86 C331.24,432.83 332.04,435.33 331.77,436.68 C331.5,438.03 330.52,438.95 329.08,438.95 C327.65,438.95 324.63,438.03 323.16,436.68 C321.69,435.33 320.72,432.83 320.27,430.86 C319.82,428.89 319.82,426.49 320.48,424.87 C321.14,423.26 322.91,421.15 324.25,421.15 Z" fill="#1030ff"/>
<path d="M323.99,423.42 C324.99,423.42 326.39,425 327.2,426.21 C328.01,427.42 328.42,429.22 328.83,430.7 C329.23,432.17 329.83,434.05 329.63,435.06 C329.42,436.08 328.69,436.76 327.61,436.76 C326.54,436.76 324.27,436.08 323.17,435.06 C322.07,434.05 321.34,432.17 321,430.7 C320.67,429.22 320.66,427.42 321.16,426.21 C321.66,425 322.98,423.42 323.99,423.42 Z" fill="#00b8ff"/>
<path d="M323.77,425.23 C324.51,425.23 325.54,426.39 326.13,427.28 C326.72,428.17 327.03,429.49 327.32,430.57 C327.62,431.65 328.06,433.03 327.91,433.77 C327.76,434.51 327.22,435.02 326.43,435.02 C325.65,435.02 323.99,434.51 323.18,433.77 C322.37,433.03 321.83,431.65 321.59,430.57 C321.34,429.49 321.34,428.17 321.7,427.28 C322.07,426.39 323.04,425.23 323.77,425.23 Z" fill="#00e060"/>
<path d="M323.59,426.82 C324.09,426.82 324.79,427.6 325.2,428.21 C325.6,428.82 325.81,429.72 326.01,430.45 C326.21,431.19 326.51,432.13 326.41,432.64 C326.31,433.14 325.94,433.49 325.4,433.49 C324.87,433.49 323.74,433.14 323.18,432.64 C322.63,432.13 322.27,431.19 322.1,430.45 C321.93,429.72 321.93,428.82 322.18,428.21 C322.43,427.6 323.09,426.82 323.59,426.82 Z" fill="#e8f000"/>
<path d="M323.39,428.51 C323.65,428.51 324,428.91 324.2,429.21 C324.4,429.51 324.5,429.96 324.6,430.33 C324.7,430.7 324.85,431.17 324.8,431.43 C324.75,431.68 324.57,431.85 324.3,431.85 C324.03,431.85 323.47,431.68 323.19,431.43 C322.91,431.17 322.73,430.7 322.65,430.33 C322.56,429.96 322.56,429.51 322.69,429.21 C322.81,428.91 323.14,428.51 323.39,428.51 Z" fill="#ff3000"/>
</g>
<g filter="url(#bl)">
<path d="M350.09,422.12 C351.1,422.36 352.44,426.74 352.78,429 C353.11,431.26 352.78,434.12 352.11,435.67 C351.43,437.22 349.74,438.4 348.73,438.3 C347.72,438.2 346.38,436.85 346.04,435.06 C345.71,433.28 346.04,429.74 346.71,427.58 C347.38,425.43 349.08,421.89 350.09,422.12 Z" fill="#6a10f0"/>
<path d="M350.09,424.03 C350.9,424.21 351.97,427.72 352.24,429.52 C352.51,431.33 352.24,433.62 351.7,434.86 C351.17,436.1 349.81,437.05 349,436.97 C348.19,436.88 347.12,435.81 346.85,434.38 C346.58,432.95 346.85,430.12 347.39,428.39 C347.92,426.67 349.28,423.84 350.09,424.03 Z" fill="#1030ff"/>
</g>
<rect x="388" y="355.2" width="3.2" height="106" fill="url(#cbar)"/>
<text x="382.4" y="355.8" font-size="2.4" font-weight="normal" text-anchor="end" fill="#333">6.652 × 10⁷</text>
<text x="382.4" y="366.42" font-size="2.4" font-weight="normal" text-anchor="end" fill="#333">5.289 × 10⁷</text>
<text x="382.4" y="377.04" font-size="2.4" font-weight="normal" text-anchor="end" fill="#333">4.756 × 10⁷</text>
<text x="382.4" y="387.66" font-size="2.4" font-weight="normal" text-anchor="end" fill="#333">4.140 × 10⁷</text>
<text x="382.4" y="398.28" font-size="2.4" font-weight="normal" text-anchor="end" fill="#333">3.576 × 10⁷</text>
<text x="382.4" y="408.9" font-size="2.4" font-weight="normal" text-anchor="end" fill="#333">3.012 × 10⁷</text>
<text x="382.4" y="419.52" font-size="2.4" font-weight="normal" text-anchor="end" fill="#333">2.448 × 10⁷</text>
<text x="382.4" y="430.14" font-size="2.4" font-weight="normal" text-anchor="end" fill="#333">1.885 × 10⁷</text>
<text x="382.4" y="440.76" font-size="2.4" font-weight="normal" text-anchor="end" fill="#333">1.319 × 10⁷</text>
<text x="382.4" y="451.38" font-size="2.4" font-weight="normal" text-anchor="end" fill="#333">7.551 × 10⁶</text>
<text x="382.4" y="462" font-size="2.4" font-weight="normal" text-anchor="end" fill="#333">1.912 × 10⁶</text>
<text x="387.5" y="351" font-size="2.2" font-weight="normal" text-anchor="middle" fill="#555">Luminescence</text>
<text x="388" y="466" font-size="2.2" font-weight="normal" text-anchor="middle" fill="#555">p/s/cm²/sr</text>
<text x="408.9" y="361.9" font-size="12.6" font-weight="bold" text-anchor="start" fill="#000" stroke="#000" stroke-width="0.38">f</text>
<line x1="434.5" y1="366.4" x2="434.5" y2="441.7" stroke="#000" stroke-width="1"/>
<line x1="434" y1="441.2" x2="546" y2="441.2" stroke="#000" stroke-width="1"/>
<line x1="431.7" y1="441.2" x2="434.5" y2="441.2" stroke="#000" stroke-width="1"/>
<text x="430.3" y="443.2" font-size="5.8" font-weight="bold" text-anchor="end" fill="#000" stroke="#000" stroke-width="0.17">0</text>
<line x1="432.7" y1="428.82" x2="434.5" y2="428.82" stroke="#000" stroke-width="1"/>
<line x1="431.7" y1="416.43" x2="434.5" y2="416.43" stroke="#000" stroke-width="1"/>
<text x="430.3" y="418.43" font-size="5.8" font-weight="bold" text-anchor="end" fill="#000" stroke="#000" stroke-width="0.17">2×10<tspan dy="-2.2" font-size="3.6">7</tspan></text>
<line x1="432.7" y1="404.05" x2="434.5" y2="404.05" stroke="#000" stroke-width="1"/>
<line x1="431.7" y1="391.67" x2="434.5" y2="391.67" stroke="#000" stroke-width="1"/>
<text x="430.3" y="393.67" font-size="5.8" font-weight="bold" text-anchor="end" fill="#000" stroke="#000" stroke-width="0.17">4×10<tspan dy="-2.2" font-size="3.6">7</tspan></text>
<line x1="432.7" y1="379.28" x2="434.5" y2="379.28" stroke="#000" stroke-width="1"/>
<line x1="431.7" y1="366.9" x2="434.5" y2="366.9" stroke="#000" stroke-width="1"/>
<text x="430.3" y="368.9" font-size="5.8" font-weight="bold" text-anchor="end" fill="#000" stroke="#000" stroke-width="0.17">6×10<tspan dy="-2.2" font-size="3.6">7</tspan></text>
<text x="411" y="404.05" font-size="6.2" font-weight="bold" text-anchor="middle" fill="#000" transform="rotate(-90 411 404.05)" stroke="#000" stroke-width="0.19">Total flux (p/s)</text>
<line x1="445.8" y1="441.2" x2="445.8" y2="444.2" stroke="#000" stroke-width="1"/>
<text x="445.8" y="449.7" font-size="5.9" font-weight="bold" text-anchor="middle" fill="#000" stroke="#000" stroke-width="0.18">D1</text>
<line x1="467.9" y1="441.2" x2="467.9" y2="444.2" stroke="#000" stroke-width="1"/>
<text x="467.9" y="449.7" font-size="5.9" font-weight="bold" text-anchor="middle" fill="#000" stroke="#000" stroke-width="0.18">D8</text>
<line x1="490.1" y1="441.2" x2="490.1" y2="444.2" stroke="#000" stroke-width="1"/>
<text x="490.1" y="449.7" font-size="5.9" font-weight="bold" text-anchor="middle" fill="#000" stroke="#000" stroke-width="0.18">D14</text>
<line x1="512.4" y1="441.2" x2="512.4" y2="444.2" stroke="#000" stroke-width="1"/>
<text x="512.4" y="449.7" font-size="5.9" font-weight="bold" text-anchor="middle" fill="#000" stroke="#000" stroke-width="0.18">D22</text>
<line x1="534.5" y1="441.2" x2="534.5" y2="444.2" stroke="#000" stroke-width="1"/>
<text x="534.5" y="449.7" font-size="5.9" font-weight="bold" text-anchor="middle" fill="#000" stroke="#000" stroke-width="0.18">D28</text>
<text x="490" y="459.5" font-size="6.4" font-weight="bold" text-anchor="middle" fill="#000" stroke="#000" stroke-width="0.19">Times</text>
<line x1="445.8" y1="412.1" x2="445.8" y2="417.05" stroke="#ff7075" stroke-width="0.8"/>
<line x1="444" y1="412.1" x2="447.6" y2="412.1" stroke="#ff7075" stroke-width="0.8"/>
<line x1="467.9" y1="436.87" x2="467.9" y2="438.1" stroke="#ff7075" stroke-width="0.8"/>
<line x1="466.1" y1="436.87" x2="469.7" y2="436.87" stroke="#ff7075" stroke-width="0.8"/>
<line x1="490.1" y1="432.53" x2="490.1" y2="436.25" stroke="#ff7075" stroke-width="0.8"/>
<line x1="488.3" y1="432.53" x2="491.9" y2="432.53" stroke="#ff7075" stroke-width="0.8"/>
<line x1="512.4" y1="436.87" x2="512.4" y2="438.1" stroke="#ff7075" stroke-width="0.8"/>
<line x1="510.6" y1="436.87" x2="514.2" y2="436.87" stroke="#ff7075" stroke-width="0.8"/>
<line x1="534.5" y1="423.24" x2="534.5" y2="430.67" stroke="#ff7075" stroke-width="0.8"/>
<line x1="532.7" y1="423.24" x2="536.3" y2="423.24" stroke="#ff7075" stroke-width="0.8"/>
<polyline points="445.8,417.05 467.9,438.1 490.1,436.25 512.4,438.1 534.5,430.67" fill="none" stroke="#ff7075" stroke-width="1.1" stroke-linejoin="round"/>
<rect x="444.3" y="415.55" width="3" height="3" fill="#ff7075"/>
<rect x="466.4" y="436.6" width="3" height="3" fill="#ff7075"/>
<rect x="488.6" y="434.75" width="3" height="3" fill="#ff7075"/>
<rect x="510.9" y="436.6" width="3" height="3" fill="#ff7075"/>
<rect x="533" y="429.17" width="3" height="3" fill="#ff7075"/>
<line x1="467.9" y1="431.29" x2="467.9" y2="432.53" stroke="#0d8bff" stroke-width="0.8"/>
<line x1="466.1" y1="431.29" x2="469.7" y2="431.29" stroke="#0d8bff" stroke-width="0.8"/>
<line x1="490.1" y1="404.05" x2="490.1" y2="420.77" stroke="#0d8bff" stroke-width="0.8"/>
<line x1="488.3" y1="404.05" x2="491.9" y2="404.05" stroke="#0d8bff" stroke-width="0.8"/>
<line x1="512.4" y1="400.95" x2="512.4" y2="415.81" stroke="#0d8bff" stroke-width="0.8"/>
<line x1="510.6" y1="400.95" x2="514.2" y2="400.95" stroke="#0d8bff" stroke-width="0.8"/>
<line x1="534.5" y1="375.57" x2="534.5" y2="379.28" stroke="#0d8bff" stroke-width="0.8"/>
<line x1="532.7" y1="375.57" x2="536.3" y2="375.57" stroke="#0d8bff" stroke-width="0.8"/>
<polyline points="445.8,440.58 467.9,432.53 490.1,420.77 512.4,415.81 534.5,379.28" fill="none" stroke="#0d8bff" stroke-width="1.2" stroke-linejoin="round"/>
<circle cx="445.8" cy="440.58" r="1.7" fill="#0d8bff"/>
<circle cx="467.9" cy="432.53" r="1.7" fill="#0d8bff"/>
<circle cx="490.1" cy="420.77" r="1.7" fill="#0d8bff"/>
<circle cx="512.4" cy="415.81" r="1.7" fill="#0d8bff"/>
<circle cx="534.5" cy="379.28" r="1.7" fill="#0d8bff"/>
<line x1="440" y1="369.1" x2="447.8" y2="369.1" stroke="#0d8bff" stroke-width="1.2"/>
<circle cx="443.9" cy="369.1" r="1.5" fill="#0d8bff"/>
<text x="452.3" y="370.9" font-size="5.05" font-weight="bold" text-anchor="start" fill="#111" stroke="#111" stroke-width="0.15">LNP-saRNA</text>
<line x1="490.6" y1="369.1" x2="498.6" y2="369.1" stroke="#ff7075" stroke-width="1.1"/>
<rect x="493.2" y="367.7" width="2.8" height="2.8" fill="#ff7075"/>
<text x="503.6" y="370.9" font-size="5.05" font-weight="bold" text-anchor="start" fill="#111" stroke="#111" stroke-width="0.15">LNP-mRNA</text>
</svg>
</body>
</html>
